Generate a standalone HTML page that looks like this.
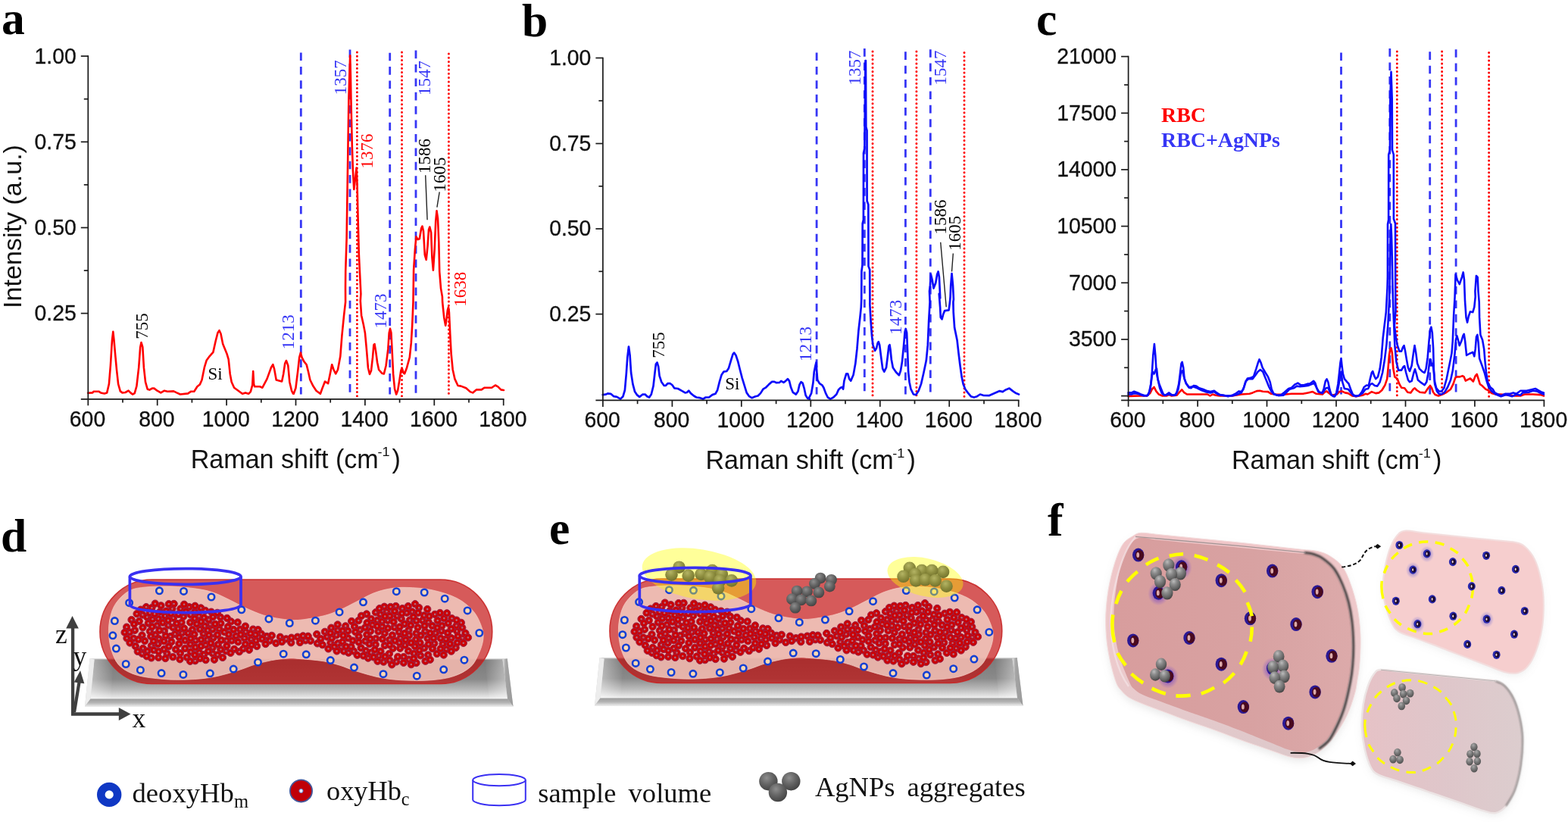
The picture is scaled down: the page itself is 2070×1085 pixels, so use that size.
<!DOCTYPE html>
<html lang="en"><head><meta charset="utf-8"><title>Raman spectra of RBC with AgNPs</title>
<style>html,body{margin:0;padding:0;background:#fff}body{width:2070px;height:1085px;overflow:hidden}svg{display:block}</style></head><body>
<svg width="2070" height="1085" viewBox="0 0 2070 1085">
<rect width="2070" height="1085" fill="#fff"/>
<g id="chart-a">
<path d="M397.3 69.5V520.5" stroke="#3636f5" stroke-width="2.8" stroke-dasharray="10.6 7.8" fill="none"/>
<path d="M462.0 65.5V520.5" stroke="#3636f5" stroke-width="2.8" stroke-dasharray="10.6 7.8" fill="none"/>
<path d="M471.4 69.05V524.6" stroke="#ff0000" stroke-width="3.0" stroke-linecap="round" stroke-dasharray="0.01 5.265" fill="none"/>
<path d="M514.7 69.7V520.5" stroke="#3636f5" stroke-width="2.8" stroke-dasharray="10.6 7.8" fill="none"/>
<path d="M530.5 69.05V524.6" stroke="#ff0000" stroke-width="3.0" stroke-linecap="round" stroke-dasharray="0.01 5.265" fill="none"/>
<path d="M549.0 66.6V520.5" stroke="#3636f5" stroke-width="2.8" stroke-dasharray="10.6 7.8" fill="none"/>
<path d="M592.4 70.95V524.6" stroke="#ff0000" stroke-width="3.0" stroke-linecap="round" stroke-dasharray="0.01 5.265" fill="none"/>
<path d="M116.1 518.7 L122.2 518.4 L123.5 516.7 L130.3 516.7 L133.0 518.4 L137.8 519.4 L141.2 518.4 L143.9 506.9 L145.9 482.5 L147.9 450.0 L149.3 437.8 L150.6 450.0 L152.0 466.3 L154.0 488.0 L156.1 506.9 L158.8 516.4 L161.5 518.4 L165.5 518.0 L169.6 515.7 L172.3 518.4 L175.0 520.5 L177.7 519.1 L180.4 509.6 L183.2 485.2 L185.2 458.2 L186.5 452.1 L188.3 458.2 L189.9 485.2 L192.0 504.2 L194.7 513.7 L197.4 514.6 L200.8 512.6 L203.5 512.6 L207.5 515.7 L212.3 518.4 L217.0 515.7 L221.1 516.7 L229.2 516.4 L233.3 518.4 L238.0 520.5 L248.2 519.4 L252.2 516.7 L256.3 516.7 L260.4 510.3 L263.8 507.6 L266.5 501.5 L269.8 485.2 L272.6 475.8 L276.6 470.3 L281.4 464.9 L284.7 450.0 L287.5 439.2 L289.5 436.2 L291.5 440.5 L294.2 454.1 L299.7 467.6 L301.7 474.4 L303.7 493.4 L305.7 504.2 L309.1 511.7 L314.6 515.7 L320.0 519.8 L324.0 518.4 L328.1 519.8 L330.8 517.1 L333.2 508.3 L334.2 490.0 L335.1 506.9 L336.2 510.3 L343.0 510.3 L346.4 511.7 L352.5 500.1 L357.9 485.2 L360.3 481.2 L362.0 486.6 L364.7 501.5 L370.1 502.9 L372.1 503.5 L374.2 493.4 L376.2 479.8 L377.9 476.0 L380.3 482.5 L382.3 504.2 L385.0 515.7 L387.0 519.8 L387.7 519.8 L390.4 512.3 L393.1 490.7 L395.2 471.7 L396.9 465.6 L398.5 471.7 L401.3 477.1 L404.6 481.2 L406.7 489.3 L409.4 501.5 L413.4 509.6 L417.5 515.7 L422.9 519.8 L425.6 512.3 L429.0 503.5 L433.1 506.2 L435.8 493.4 L438.2 481.2 L440.5 488.0 L443.2 493.4 L446.0 488.0 L449.3 470.3 L451.4 443.2 L454.1 416.2 L456.1 398.5 L456.0 380.0 L456.2 358.0 L457.6 315.0 L458.9 229.0 L460.4 130.0 L461.3 100.0 L462.2 73.3 L462.9 100.0 L463.4 130.0 L464.8 192.5 L465.9 225.0 L467.3 250.0 L469.0 236.0 L470.6 221.5 L471.6 245.0 L472.2 272.0 L473.8 335.0 L475.0 360.0 L476.4 388.0 L475.8 397.2 L477.1 416.2 L479.8 428.3 L481.9 439.2 L483.9 460.9 L485.9 485.2 L488.0 494.0 L490.0 489.3 L492.0 471.7 L493.4 455.4 L494.5 454.1 L496.1 463.6 L498.1 478.5 L500.1 488.0 L504.2 492.7 L506.9 493.4 L509.6 482.5 L512.3 460.9 L513.7 439.2 L515.0 433.8 L516.4 439.2 L517.8 466.3 L519.1 493.4 L521.1 513.7 L523.2 520.5 L525.2 515.0 L527.2 502.9 L529.3 489.3 L530.6 485.9 L532.7 492.0 L534.0 493.4 L536.7 486.6 L540.8 471.7 L542.8 452.7 L544.2 429.7 L545.5 398.5 L546.1 356.6 L547.9 329.0 L549.4 312.4 L551.6 316.1 L553.8 315.2 L556.2 301.3 L557.5 298.6 L559.0 305.0 L560.8 336.4 L562.7 342.8 L564.5 325.3 L566.0 303.2 L567.3 299.5 L569.1 306.9 L570.4 340.0 L571.9 356.6 L573.7 329.0 L575.2 292.1 L576.5 278.3 L578.0 288.4 L579.3 319.8 L580.2 358.5 L582.0 380.6 L583.9 391.6 L584.1 398.5 L586.2 418.9 L588.2 429.7 L589.6 420.2 L590.9 409.4 L592.0 405.3 L592.9 412.1 L594.3 441.9 L595.6 466.3 L597.7 488.0 L600.4 500.1 L604.5 509.0 L608.5 509.6 L615.3 512.3 L620.7 517.1 L624.1 518.4 L628.8 514.4 L635.6 514.4 L639.7 511.7 L649.2 511.7 L653.9 508.5 L657.3 510.3 L661.3 514.4 L665.0 515.0" fill="none" stroke="#ff0000" stroke-width="2.6" stroke-linejoin="round" stroke-linecap="round"/>
<g stroke="#1a1a1a" stroke-width="1.7" fill="none">
<path d="M106.8 526.8H665.5"/>
<path d="M116.3 526.8V73.3"/>
<path d="M116.3 526.8v8.5"/>
<path d="M162.0 526.8v4.8"/>
<path d="M207.7 526.8v8.5"/>
<path d="M253.4 526.8v4.8"/>
<path d="M299.1 526.8v8.5"/>
<path d="M344.8 526.8v4.8"/>
<path d="M390.5 526.8v8.5"/>
<path d="M436.2 526.8v4.8"/>
<path d="M481.9 526.8v8.5"/>
<path d="M527.6 526.8v4.8"/>
<path d="M573.3 526.8v8.5"/>
<path d="M619.0 526.8v4.8"/>
<path d="M664.7 526.8v8.5"/>
<path d="M116.3 74.1h-9.5"/>
<path d="M116.3 130.7h-5.5"/>
<path d="M116.3 187.3h-9.5"/>
<path d="M116.3 243.9h-5.5"/>
<path d="M116.3 300.5h-9.5"/>
<path d="M116.3 357.1h-5.5"/>
<path d="M116.3 413.6h-9.5"/>
</g>
<g font-family="'Liberation Sans',Arial,sans-serif" font-size="28.4" fill="#111" stroke="#111" stroke-width="0.3">
<text transform="translate(115.5 563) scale(1 1.03)" text-anchor="middle">600</text>
<text transform="translate(206.9 563) scale(1 1.03)" text-anchor="middle">800</text>
<text transform="translate(298.3 563) scale(1 1.03)" text-anchor="middle">1000</text>
<text transform="translate(389.7 563) scale(1 1.03)" text-anchor="middle">1200</text>
<text transform="translate(481.1 563) scale(1 1.03)" text-anchor="middle">1400</text>
<text transform="translate(572.5 563) scale(1 1.03)" text-anchor="middle">1600</text>
<text transform="translate(663.9 563) scale(1 1.03)" text-anchor="middle">1800</text>
<text transform="translate(100.8 83.5) scale(1 1.03)" text-anchor="end">1.00</text>
<text transform="translate(100.8 196.7) scale(1 1.03)" text-anchor="end">0.75</text>
<text transform="translate(100.8 309.9) scale(1 1.03)" text-anchor="end">0.50</text>
<text transform="translate(100.8 423.0) scale(1 1.03)" text-anchor="end">0.25</text>
</g>
<g font-family="'Liberation Sans',Arial,sans-serif" fill="#111"><text transform="translate(251.7 617.7) scale(1 1.04)" font-size="34.1">Raman shift (cm</text><text transform="translate(498.5 601.8) scale(1.1 1)" font-size="16.5">-1</text><text transform="translate(517.6 617.7) scale(1 1.04)" font-size="34.1">)</text></g>
<text transform="translate(28 299) rotate(-90)" text-anchor="middle" font-family="'Liberation Sans',Arial,sans-serif" font-size="34.1" fill="#111">Intensity (a.u.)</text>
<text transform="translate(457.0 125.3) rotate(-90)" font-family="'Liberation Serif','Times New Roman',serif" font-size="23" fill="#3636f5" text-anchor="start">1357</text>
<text transform="translate(568.3 126.0) rotate(-90)" font-family="'Liberation Serif','Times New Roman',serif" font-size="23" fill="#3636f5" text-anchor="start">1547</text>
<text transform="translate(492.3 222.4) rotate(-90)" font-family="'Liberation Serif','Times New Roman',serif" font-size="23" fill="#ff0000" text-anchor="start">1376</text>
<text transform="translate(614.6 404.8) rotate(-90)" font-family="'Liberation Serif','Times New Roman',serif" font-size="23" fill="#ff0000" text-anchor="start">1638</text>
<text transform="translate(567.6 229.0) rotate(-90)" font-family="'Liberation Serif','Times New Roman',serif" font-size="23" fill="#000" text-anchor="start">1586</text>
<text transform="translate(587.9 253.4) rotate(-90)" font-family="'Liberation Serif','Times New Roman',serif" font-size="23" fill="#000" text-anchor="start">1605</text>
<text transform="translate(194.6 447.8) rotate(-90)" font-family="'Liberation Serif','Times New Roman',serif" font-size="23" fill="#000" text-anchor="start">755</text>
<text transform="translate(388.3 461.3) rotate(-90)" font-family="'Liberation Serif','Times New Roman',serif" font-size="23" fill="#3636f5" text-anchor="start">1213</text>
<text transform="translate(510.3 433.5) rotate(-90)" font-family="'Liberation Serif','Times New Roman',serif" font-size="23" fill="#3636f5" text-anchor="start">1473</text>
<path d="M561.7 231.3L564.1 290.3M580.2 253.4L576.9 273.7" stroke="#222" stroke-width="1.4" fill="none"/>
<text x="274.5" y="500.8" font-family="'Liberation Serif',serif" font-size="23" fill="#000">Si</text>
<text x="2" y="44.5" font-family="'Liberation Serif','Times New Roman',serif" font-weight="bold" font-size="61.5" fill="#000">a</text>
</g>
<g id="chart-b">
<path d="M1078.1 69.5V520.5" stroke="#3636f5" stroke-width="2.8" stroke-dasharray="10.6 7.8" fill="none"/>
<path d="M1141.3 64.1V516.4" stroke="#3636f5" stroke-width="2.8" stroke-dasharray="10.6 7.8" fill="none"/>
<path d="M1152.0 68.05V522.1" stroke="#ff0000" stroke-width="3.0" stroke-linecap="round" stroke-dasharray="0.01 5.265" fill="none"/>
<path d="M1195.4 68.3V520.5" stroke="#3636f5" stroke-width="2.8" stroke-dasharray="10.6 7.8" fill="none"/>
<path d="M1209.9 68.05V522.1" stroke="#ff0000" stroke-width="3.0" stroke-linecap="round" stroke-dasharray="0.01 5.265" fill="none"/>
<path d="M1228.3 65.2V517.8" stroke="#3636f5" stroke-width="2.8" stroke-dasharray="10.6 7.8" fill="none"/>
<path d="M1273.0 69.55V523.4" stroke="#ff0000" stroke-width="3.0" stroke-linecap="round" stroke-dasharray="0.01 5.265" fill="none"/>
<path d="M795.7 521.1 L799.5 520.7 L802.2 519.4 L806.3 519.8 L810.3 523.2 L814.4 523.9 L819.1 526.6 L822.5 523.2 L824.9 515.0 L826.8 493.4 L828.3 471.7 L830.0 457.5 L831.6 469.0 L833.1 492.0 L835.4 506.9 L838.1 517.1 L840.8 521.1 L844.2 523.9 L848.2 520.7 L851.6 520.5 L854.3 523.2 L857.1 524.5 L859.8 520.5 L862.5 509.6 L864.5 492.0 L865.9 480.5 L867.5 478.5 L869.2 483.9 L870.6 496.1 L873.3 504.2 L876.7 509.0 L878.7 509.0 L881.4 506.2 L884.8 506.2 L887.5 508.3 L890.2 512.3 L895.0 513.0 L899.7 515.7 L904.5 518.4 L906.8 518.0 L909.2 515.7 L911.9 519.1 L916.0 522.5 L919.4 524.5 L924.1 525.2 L928.2 526.6 L931.6 524.5 L936.3 524.3 L940.4 521.1 L944.4 519.8 L947.1 515.0 L949.8 504.2 L952.6 494.7 L955.3 490.7 L959.3 490.0 L962.0 485.9 L965.4 474.4 L967.5 467.6 L969.1 465.6 L971.5 469.0 L974.2 477.1 L976.9 488.0 L979.7 498.8 L983.0 509.6 L985.7 518.4 L989.1 523.2 L992.5 525.2 L997.3 523.2 L1000.6 522.5 L1004.0 519.1 L1007.4 513.7 L1010.8 511.7 L1014.9 507.6 L1018.9 503.9 L1022.3 503.9 L1025.0 505.2 L1029.1 504.9 L1031.1 502.9 L1034.5 504.9 L1037.2 502.9 L1039.9 500.1 L1042.0 502.9 L1044.0 511.0 L1046.7 517.8 L1050.8 520.5 L1053.5 516.4 L1055.5 507.6 L1057.5 504.2 L1059.6 505.6 L1061.6 512.3 L1063.6 521.8 L1066.3 525.9 L1069.1 526.6 L1067.7 525.9 L1071.1 519.1 L1073.4 505.6 L1074.8 490.7 L1076.5 482.5 L1077.5 478.5 L1078.3 490.7 L1079.2 501.5 L1081.9 506.2 L1085.3 508.3 L1087.4 511.7 L1090.1 519.1 L1092.8 524.5 L1096.2 526.6 L1100.2 524.5 L1104.3 520.5 L1107.0 514.4 L1109.7 511.7 L1111.7 511.0 L1113.1 513.7 L1114.4 502.9 L1117.2 493.4 L1119.2 493.4 L1121.2 500.1 L1123.2 502.6 L1126.6 494.7 L1129.3 479.8 L1131.4 460.9 L1133.4 436.5 L1135.4 418.9 L1136.8 405.3 L1137.2 395.0 L1137.4 358.0 L1138.5 350.0 L1138.7 295.0 L1139.9 290.0 L1140.0 202.0 L1141.4 196.0 L1141.6 168.0 L1142.5 80.0 L1142.9 80.0 L1143.3 167.6 L1144.5 172.0 L1144.6 265.3 L1146.3 270.0 L1146.5 351.4 L1148.2 356.0 L1148.4 398.0 L1148.3 401.3 L1149.7 425.6 L1151.0 443.2 L1152.4 455.4 L1155.1 462.9 L1157.1 459.5 L1158.7 452.7 L1159.8 451.1 L1161.2 455.4 L1163.2 471.7 L1165.2 486.6 L1167.3 490.7 L1170.0 485.2 L1172.0 469.0 L1173.4 456.8 L1174.5 455.2 L1175.4 460.9 L1176.8 474.4 L1178.8 485.2 L1182.9 491.3 L1186.9 495.4 L1189.0 489.3 L1191.0 477.1 L1193.0 456.8 L1194.6 437.8 L1195.7 434.0 L1197.1 439.2 L1198.2 466.3 L1199.1 490.7 L1200.5 504.2 L1202.5 513.7 L1205.9 520.5 L1209.3 521.1 L1212.7 515.7 L1216.0 506.9 L1219.4 492.0 L1222.8 475.8 L1224.8 455.4 L1226.2 422.9 L1227.6 398.5 L1227.0 384.3 L1227.9 376.9 L1228.9 362.2 L1230.7 369.5 L1232.5 380.6 L1235.3 373.2 L1237.1 362.2 L1238.6 358.5 L1239.9 365.8 L1241.2 393.5 L1239.7 387.7 L1241.1 405.3 L1241.8 418.9 L1243.5 421.3 L1245.2 414.8 L1247.2 410.1 L1252.6 409.4 L1254.0 398.5 L1254.6 391.6 L1255.2 376.9 L1256.5 361.2 L1258.0 376.9 L1258.9 395.3 L1258.4 398.5 L1258.7 412.1 L1260.1 432.4 L1263.5 448.7 L1265.5 466.3 L1267.5 482.5 L1269.6 497.4 L1271.6 506.9 L1274.3 513.7 L1277.7 518.4 L1281.7 523.2 L1285.8 524.5 L1289.9 523.2 L1293.9 520.5 L1298.0 521.8 L1306.1 522.1 L1312.9 519.1 L1319.7 516.1 L1323.7 517.1 L1327.8 514.4 L1332.5 512.6 L1337.3 516.4 L1341.3 519.1 L1345.0 520.5" fill="none" stroke="#0c0cfa" stroke-width="2.7" stroke-linejoin="round" stroke-linecap="round"/>
<g stroke="#1a1a1a" stroke-width="1.7" fill="none">
<path d="M786.4 528.4H1345.5"/>
<path d="M795.9 528.4V75.7"/>
<path d="M795.9 528.4v8.5"/>
<path d="M841.6 528.4v4.8"/>
<path d="M887.4 528.4v8.5"/>
<path d="M933.1 528.4v4.8"/>
<path d="M978.8 528.4v8.5"/>
<path d="M1024.6 528.4v4.8"/>
<path d="M1070.3 528.4v8.5"/>
<path d="M1116.0 528.4v4.8"/>
<path d="M1161.8 528.4v8.5"/>
<path d="M1207.5 528.4v4.8"/>
<path d="M1253.2 528.4v8.5"/>
<path d="M1299.0 528.4v4.8"/>
<path d="M1344.7 528.4v8.5"/>
<path d="M795.9 76.5h-9.5"/>
<path d="M795.9 133.0h-5.5"/>
<path d="M795.9 189.5h-9.5"/>
<path d="M795.9 245.8h-5.5"/>
<path d="M795.9 302.0h-9.5"/>
<path d="M795.9 358.3h-5.5"/>
<path d="M795.9 414.6h-9.5"/>
</g>
<g font-family="'Liberation Sans',Arial,sans-serif" font-size="28.4" fill="#111" stroke="#111" stroke-width="0.3">
<text transform="translate(795.1 564.3) scale(1 1.03)" text-anchor="middle">600</text>
<text transform="translate(886.6 564.3) scale(1 1.03)" text-anchor="middle">800</text>
<text transform="translate(978.0 564.3) scale(1 1.03)" text-anchor="middle">1000</text>
<text transform="translate(1069.5 564.3) scale(1 1.03)" text-anchor="middle">1200</text>
<text transform="translate(1161.0 564.3) scale(1 1.03)" text-anchor="middle">1400</text>
<text transform="translate(1252.4 564.3) scale(1 1.03)" text-anchor="middle">1600</text>
<text transform="translate(1343.9 564.3) scale(1 1.03)" text-anchor="middle">1800</text>
<text transform="translate(780.4 85.9) scale(1 1.03)" text-anchor="end">1.00</text>
<text transform="translate(780.4 198.9) scale(1 1.03)" text-anchor="end">0.75</text>
<text transform="translate(780.4 311.4) scale(1 1.03)" text-anchor="end">0.50</text>
<text transform="translate(780.4 424.0) scale(1 1.03)" text-anchor="end">0.25</text>
</g>
<g font-family="'Liberation Sans',Arial,sans-serif" fill="#111"><text transform="translate(931.5 619.4) scale(1 1.04)" font-size="34.1">Raman shift (cm</text><text transform="translate(1178.3 603.5) scale(1.1 1)" font-size="16.5">-1</text><text transform="translate(1197.4 619.4) scale(1 1.04)" font-size="34.1">)</text></g>
<text transform="translate(1136.0 112.4) rotate(-90)" font-family="'Liberation Serif','Times New Roman',serif" font-size="23" fill="#3636f5" text-anchor="start">1357</text>
<text transform="translate(1248.9 112.4) rotate(-90)" font-family="'Liberation Serif','Times New Roman',serif" font-size="23" fill="#3636f5" text-anchor="start">1547</text>
<text transform="translate(1249.4 309.6) rotate(-90)" font-family="'Liberation Serif','Times New Roman',serif" font-size="23" fill="#000" text-anchor="start">1586</text>
<text transform="translate(1267.9 330.8) rotate(-90)" font-family="'Liberation Serif','Times New Roman',serif" font-size="23" fill="#000" text-anchor="start">1605</text>
<text transform="translate(876.7 472.8) rotate(-90)" font-family="'Liberation Serif','Times New Roman',serif" font-size="23" fill="#000" text-anchor="start">755</text>
<text transform="translate(1070.5 476.9) rotate(-90)" font-family="'Liberation Serif','Times New Roman',serif" font-size="23" fill="#3636f5" text-anchor="start">1213</text>
<text transform="translate(1189.6 441.7) rotate(-90)" font-family="'Liberation Serif','Times New Roman',serif" font-size="23" fill="#3636f5" text-anchor="start">1473</text>
<path d="M1241.7 319.8L1249.2 405.3M1258.3 334.5L1256.5 358.5" stroke="#222" stroke-width="1.4" fill="none"/>
<text x="957.2" y="514.4" font-family="'Liberation Serif',serif" font-size="23" fill="#000">Si</text>
<text x="689" y="47.5" font-family="'Liberation Serif','Times New Roman',serif" font-weight="bold" font-size="61.5" fill="#000">b</text>
</g>
<g id="chart-c">
<path d="M1770.5 69.5V520.5" stroke="#3636f5" stroke-width="2.8" stroke-dasharray="10.6 7.8" fill="none"/>
<path d="M1834.8 64.1V517.0" stroke="#3636f5" stroke-width="2.8" stroke-dasharray="10.6 7.8" fill="none"/>
<path d="M1844.3 68.05V522.6" stroke="#ff0000" stroke-width="3.0" stroke-linecap="round" stroke-dasharray="0.01 5.265" fill="none"/>
<path d="M1887.7 68.3V520.5" stroke="#3636f5" stroke-width="2.8" stroke-dasharray="10.6 7.8" fill="none"/>
<path d="M1903.6 68.05V519.6" stroke="#ff0000" stroke-width="3.0" stroke-linecap="round" stroke-dasharray="0.01 5.265" fill="none"/>
<path d="M1922.1 65.2V518.5" stroke="#3636f5" stroke-width="2.8" stroke-dasharray="10.6 7.8" fill="none"/>
<path d="M1965.6 69.55V523.4" stroke="#ff0000" stroke-width="3.0" stroke-linecap="round" stroke-dasharray="0.01 5.265" fill="none"/>
<path d="M1489.5 522.9 L1506.0 522.5 L1514.2 522.5 L1518.2 519.1 L1520.9 513.7 L1523.6 511.0 L1526.3 516.4 L1529.7 520.5 L1534.5 522.5 L1539.9 522.5 L1543.3 521.1 L1546.7 522.5 L1553.4 521.8 L1556.8 517.8 L1560.2 514.4 L1562.9 517.8 L1567.0 520.5 L1577.8 520.5 L1594.1 520.5 L1597.5 522.5 L1600.9 520.5 L1604.9 521.8 L1610.3 522.5 L1626.6 522.5 L1638.8 520.5 L1649.6 519.8 L1653.7 518.4 L1659.1 516.1 L1663.2 515.7 L1667.2 516.7 L1674.0 517.1 L1678.1 519.8 L1683.5 520.5 L1694.3 520.7 L1705.2 519.8 L1720.1 519.8 L1726.8 518.4 L1732.9 517.1 L1737.7 519.8 L1745.8 520.5 L1748.5 517.8 L1751.2 516.4 L1753.9 518.4 L1758.0 521.8 L1764.8 520.5 L1768.2 517.1 L1771.5 516.4 L1775.6 518.4 L1779.7 519.1 L1785.1 522.5 L1790.5 523.2 L1798.6 521.8 L1802.7 519.8 L1805.4 520.5 L1810.8 517.1 L1816.2 519.1 L1820.3 518.4 L1824.4 515.0 L1828.4 508.3 L1831.2 500.1 L1832.5 486.6 L1833.9 469.0 L1835.2 460.9 L1836.6 459.5 L1837.9 466.3 L1839.3 486.6 L1841.3 497.4 L1844.7 500.1 L1847.4 506.9 L1850.1 511.7 L1854.2 512.3 L1858.2 517.8 L1862.3 518.4 L1865.7 513.7 L1867.7 512.3 L1870.4 515.0 L1874.5 517.8 L1881.3 518.4 L1885.3 512.3 L1888.0 509.0 L1890.1 512.3 L1892.1 517.8 L1894.8 521.1 L1898.9 522.5 L1904.3 520.5 L1909.7 517.8 L1915.1 513.7 L1918.5 506.9 L1921.2 498.8 L1923.3 497.2 L1927.3 497.4 L1930.7 496.1 L1932.7 497.4 L1934.8 502.6 L1938.2 500.8 L1940.9 499.5 L1944.9 503.5 L1947.7 496.1 L1949.7 494.0 L1951.7 500.1 L1953.7 506.9 L1957.1 509.6 L1961.2 513.7 L1965.3 515.7 L1969.3 519.1 L1974.7 520.5 L1980.2 520.5 L1988.3 521.1 L1999.1 522.5 L2007.3 522.5 L2012.7 520.5 L2023.5 520.5 L2034.3 521.1 L2038.0 522.5" fill="none" stroke="#ff0000" stroke-width="2.6" stroke-linejoin="round" stroke-linecap="round"/>
<path d="M1489.5 518.4 L1493.8 518.4 L1497.2 516.7 L1502.0 518.4 L1506.0 520.5 L1510.1 521.8 L1514.2 522.5 L1516.9 518.4 L1519.3 506.9 L1520.9 490.7 L1522.3 469.0 L1523.9 454.1 L1525.3 469.0 L1526.6 490.7 L1528.4 500.1 L1530.4 506.9 L1533.1 513.7 L1535.8 520.5 L1538.5 521.8 L1543.3 518.4 L1546.7 521.1 L1550.7 521.8 L1553.4 518.4 L1556.2 506.9 L1558.2 490.7 L1559.5 479.8 L1560.6 477.8 L1562.2 485.2 L1563.6 500.1 L1566.3 506.9 L1569.7 511.7 L1572.4 512.3 L1575.8 509.0 L1579.2 509.6 L1583.2 512.3 L1588.0 513.7 L1592.7 515.7 L1598.1 517.1 L1602.9 515.7 L1606.3 518.4 L1610.3 521.1 L1615.8 521.8 L1621.2 523.2 L1626.6 521.8 L1632.0 519.1 L1635.4 516.4 L1638.8 517.1 L1641.5 513.7 L1644.2 504.2 L1646.9 499.5 L1651.0 498.8 L1655.0 496.8 L1658.4 486.6 L1660.5 479.8 L1662.5 474.4 L1664.5 478.5 L1666.6 485.2 L1670.6 492.0 L1674.0 497.4 L1676.7 504.2 L1678.7 513.7 L1681.5 519.8 L1686.2 521.8 L1691.6 521.1 L1695.7 517.8 L1701.1 513.0 L1705.2 511.7 L1709.2 507.6 L1713.3 505.6 L1717.4 508.3 L1721.4 508.3 L1725.5 506.9 L1729.5 506.2 L1732.3 504.2 L1734.3 502.9 L1736.3 505.6 L1738.4 512.3 L1741.7 517.8 L1745.8 518.4 L1747.8 512.3 L1749.9 502.9 L1751.5 500.4 L1753.3 504.2 L1755.3 513.7 L1757.3 520.5 L1760.0 523.2 L1761.4 523.2 L1764.1 519.1 L1766.4 506.9 L1768.2 490.7 L1769.5 478.5 L1770.5 473.1 L1771.5 482.5 L1772.9 493.4 L1774.9 500.1 L1778.3 504.2 L1780.4 506.2 L1783.1 513.7 L1785.8 520.5 L1789.8 523.2 L1794.6 521.8 L1798.0 517.1 L1800.7 511.0 L1804.1 508.5 L1806.8 509.0 L1808.8 500.1 L1810.8 492.0 L1812.2 490.0 L1814.2 496.1 L1816.2 500.1 L1819.0 497.4 L1821.7 486.6 L1823.7 471.7 L1825.7 446.0 L1827.8 428.3 L1829.8 412.1 L1831.5 380.0 L1831.9 365.0 L1832.0 296.0 L1833.1 290.0 L1833.2 204.0 L1834.9 198.0 L1835.3 130.0 L1836.5 94.8 L1837.7 130.0 L1838.0 198.0 L1839.8 204.0 L1839.9 289.0 L1842.0 295.0 L1842.2 385.0 L1842.5 410.0 L1840.9 429.7 L1842.7 444.6 L1844.7 455.4 L1847.4 463.6 L1850.1 463.6 L1852.1 458.2 L1853.5 456.1 L1854.9 462.2 L1856.9 474.4 L1858.9 485.2 L1861.0 490.0 L1863.7 482.5 L1865.7 467.6 L1867.5 456.1 L1869.1 464.9 L1871.1 479.8 L1873.8 486.6 L1877.9 490.7 L1880.6 492.0 L1882.6 486.6 L1884.7 471.7 L1886.4 451.4 L1888.0 435.1 L1889.4 431.7 L1890.8 439.2 L1892.1 459.5 L1892.8 486.6 L1894.1 504.2 L1896.2 512.3 L1899.6 516.4 L1902.9 516.7 L1906.3 512.3 L1909.7 500.1 L1913.8 479.8 L1916.5 466.3 L1917.8 450.0 L1919.2 414.8 L1920.6 391.8 L1920.7 387.9 L1921.6 362.2 L1923.8 369.5 L1926.8 375.1 L1929.9 365.8 L1931.7 359.4 L1933.0 369.5 L1934.0 397.2 L1934.1 398.5 L1935.5 418.9 L1937.1 425.6 L1938.8 417.5 L1940.9 411.4 L1944.3 412.1 L1946.3 405.3 L1947.7 391.8 L1947.4 384.3 L1948.9 364.0 L1950.7 365.8 L1951.5 384.3 L1952.7 398.5 L1953.1 418.9 L1954.4 441.9 L1957.1 448.7 L1959.2 460.9 L1960.5 477.1 L1961.9 490.7 L1963.9 504.2 L1967.3 511.0 L1970.7 513.7 L1973.4 518.4 L1977.5 520.5 L1981.5 522.5 L1986.9 519.8 L1993.7 519.8 L1997.8 518.4 L2001.8 519.8 L2007.3 515.7 L2015.4 515.7 L2020.8 514.4 L2026.9 513.0 L2031.6 515.7 L2035.7 517.8 L2038.0 518.4" fill="none" stroke="#0c0cfa" stroke-width="2.6" stroke-linejoin="round" stroke-linecap="round"/>
<path d="M1489.5 520.5 L1493.8 520.5 L1497.2 519.1 L1502.0 519.8 L1510.1 522.5 L1515.5 521.8 L1518.5 513.7 L1520.3 500.1 L1521.6 490.7 L1523.6 493.4 L1525.7 488.0 L1527.0 486.6 L1528.4 500.1 L1531.1 512.3 L1533.8 519.1 L1537.2 521.8 L1542.6 520.5 L1548.0 521.8 L1552.1 521.1 L1555.5 513.7 L1557.5 501.5 L1558.9 492.0 L1560.9 489.3 L1562.9 497.4 L1565.6 505.6 L1569.7 511.0 L1575.1 510.3 L1580.5 512.3 L1586.0 515.0 L1591.4 517.1 L1598.1 518.4 L1602.9 517.1 L1607.6 520.5 L1615.8 522.1 L1626.6 522.5 L1633.4 520.5 L1638.8 518.4 L1642.2 511.0 L1644.9 502.9 L1648.3 500.1 L1653.7 500.1 L1657.7 494.7 L1660.5 490.7 L1663.8 488.0 L1667.2 490.7 L1669.9 497.4 L1672.7 504.2 L1675.4 511.0 L1678.7 517.1 L1682.1 520.5 L1687.6 522.1 L1694.3 521.8 L1698.4 517.8 L1702.5 513.7 L1707.9 512.3 L1711.9 509.6 L1716.0 510.3 L1721.4 509.6 L1726.8 509.0 L1732.3 506.9 L1735.0 505.6 L1737.7 511.0 L1740.4 517.1 L1745.8 519.1 L1748.5 515.0 L1750.5 512.3 L1753.3 511.7 L1755.3 516.4 L1758.0 521.8 L1762.1 523.2 L1765.5 517.8 L1767.5 506.9 L1769.5 492.0 L1770.5 490.7 L1772.2 504.2 L1774.9 513.0 L1779.7 513.7 L1783.1 517.8 L1787.1 522.5 L1793.2 522.5 L1798.6 519.1 L1802.7 513.7 L1806.1 513.0 L1808.8 507.6 L1811.5 506.2 L1814.9 509.0 L1818.3 509.6 L1821.7 504.2 L1825.1 492.0 L1827.8 475.8 L1830.5 454.1 L1832.5 425.6 L1833.9 398.5 L1834.5 380.0 L1835.0 340.0 L1835.6 310.0 L1836.3 296.0 L1837.0 310.0 L1837.8 340.0 L1838.5 380.0 L1839.5 412.0 L1841.3 455.4 L1843.3 477.1 L1846.1 488.6 L1850.1 488.6 L1852.8 483.9 L1854.2 483.2 L1856.2 492.0 L1858.9 501.5 L1861.0 504.2 L1863.7 502.9 L1866.4 492.0 L1868.0 487.3 L1869.8 493.4 L1871.8 501.5 L1875.9 504.9 L1880.6 508.3 L1883.3 504.2 L1885.3 493.4 L1887.4 475.8 L1888.7 474.4 L1890.1 482.5 L1891.4 479.8 L1892.8 490.7 L1894.1 506.9 L1896.9 516.4 L1899.6 519.8 L1902.9 520.5 L1907.0 517.8 L1911.1 511.0 L1915.1 501.5 L1917.8 489.3 L1920.6 466.3 L1921.9 448.7 L1923.3 443.2 L1925.3 450.0 L1926.7 456.1 L1929.4 450.0 L1931.4 443.2 L1932.7 440.8 L1934.1 450.0 L1936.1 469.0 L1939.5 467.0 L1944.3 464.9 L1946.3 470.3 L1947.7 460.9 L1949.0 444.6 L1950.4 441.9 L1951.7 452.7 L1953.1 473.1 L1956.5 482.5 L1959.8 492.0 L1962.6 502.9 L1965.3 511.0 L1969.3 516.4 L1974.7 520.5 L1981.5 523.2 L1988.3 521.1 L1996.4 523.2 L2001.8 520.5 L2007.3 521.8 L2010.0 518.4 L2018.1 517.8 L2023.5 515.7 L2028.9 516.4 L2034.3 519.1 L2038.0 520.5" fill="none" stroke="#0c0cfa" stroke-width="2.6" stroke-linejoin="round" stroke-linecap="round"/>
<g stroke="#1a1a1a" stroke-width="1.7" fill="none">
<path d="M1480.1 528.3H2039.2"/>
<path d="M1489.6 528.3V73.8"/>
<path d="M1489.6 528.3v8.5"/>
<path d="M1535.3 528.3v4.8"/>
<path d="M1581.1 528.3v8.5"/>
<path d="M1626.8 528.3v4.8"/>
<path d="M1672.5 528.3v8.5"/>
<path d="M1718.3 528.3v4.8"/>
<path d="M1764.0 528.3v8.5"/>
<path d="M1809.7 528.3v4.8"/>
<path d="M1855.5 528.3v8.5"/>
<path d="M1901.2 528.3v4.8"/>
<path d="M1946.9 528.3v8.5"/>
<path d="M1992.7 528.3v4.8"/>
<path d="M2038.4 528.3v8.5"/>
<path d="M1489.6 74.6h-9.5"/>
<path d="M1489.6 112.0h-5.5"/>
<path d="M1489.6 149.3h-9.5"/>
<path d="M1489.6 186.6h-5.5"/>
<path d="M1489.6 223.9h-9.5"/>
<path d="M1489.6 261.2h-5.5"/>
<path d="M1489.6 298.6h-9.5"/>
<path d="M1489.6 336.0h-5.5"/>
<path d="M1489.6 373.3h-9.5"/>
<path d="M1489.6 410.6h-5.5"/>
<path d="M1489.6 448.0h-9.5"/>
<path d="M1489.6 485.3h-5.5"/>
<path d="M1489.6 522.6h-9.5"/>
</g>
<g font-family="'Liberation Sans',Arial,sans-serif" font-size="28.4" fill="#111" stroke="#111" stroke-width="0.3">
<text transform="translate(1488.8 564.2) scale(1 1.03)" text-anchor="middle">600</text>
<text transform="translate(1580.3 564.2) scale(1 1.03)" text-anchor="middle">800</text>
<text transform="translate(1671.7 564.2) scale(1 1.03)" text-anchor="middle">1000</text>
<text transform="translate(1763.2 564.2) scale(1 1.03)" text-anchor="middle">1200</text>
<text transform="translate(1854.7 564.2) scale(1 1.03)" text-anchor="middle">1400</text>
<text transform="translate(1946.1 564.2) scale(1 1.03)" text-anchor="middle">1600</text>
<text transform="translate(2037.6 564.2) scale(1 1.03)" text-anchor="middle">1800</text>
<text transform="translate(1474.1 84.0) scale(1 1.03)" text-anchor="end">21000</text>
<text transform="translate(1474.1 158.7) scale(1 1.03)" text-anchor="end">17500</text>
<text transform="translate(1474.1 233.3) scale(1 1.03)" text-anchor="end">14000</text>
<text transform="translate(1474.1 308.0) scale(1 1.03)" text-anchor="end">10500</text>
<text transform="translate(1474.1 382.7) scale(1 1.03)" text-anchor="end">7000</text>
<text transform="translate(1474.1 457.4) scale(1 1.03)" text-anchor="end">3500</text>
</g>
<g font-family="'Liberation Sans',Arial,sans-serif" fill="#111"><text transform="translate(1626.0 619.4) scale(1 1.04)" font-size="34.1">Raman shift (cm</text><text transform="translate(1872.8 603.5) scale(1.1 1)" font-size="16.5">-1</text><text transform="translate(1891.9 619.4) scale(1 1.04)" font-size="34.1">)</text></g>
<text x="1533" y="161.2" font-family="'Liberation Serif',serif" font-weight="bold" font-size="27.9" fill="#ff0000">RBC</text>
<text x="1533" y="194" font-family="'Liberation Serif',serif" font-weight="bold" font-size="27.9" fill="#3636f5">RBC+AgNPs</text>
<text x="1368" y="46" font-family="'Liberation Serif','Times New Roman',serif" font-weight="bold" font-size="61.5" fill="#000">c</text>
</g>
<defs><radialGradient id="gGray" cx="0.4" cy="0.32" r="0.75"><stop offset="0" stop-color="#8e8e8e"/><stop offset="0.45" stop-color="#666"/><stop offset="1" stop-color="#3e3e3e"/></radialGradient>
<radialGradient id="gGrayL" cx="0.38" cy="0.26" r="0.8"><stop offset="0" stop-color="#bcbcbc"/><stop offset="0.3" stop-color="#8e8e8e"/><stop offset="0.7" stop-color="#646464"/><stop offset="1" stop-color="#3a3a3a"/></radialGradient>
<radialGradient id="gOlive" cx="0.42" cy="0.3" r="0.75"><stop offset="0" stop-color="#b4b464"/><stop offset="0.5" stop-color="#8f8f40"/><stop offset="1" stop-color="#6e6e2a"/></radialGradient>
<linearGradient id="gCaps" x1="0" y1="0" x2="0" y2="1"><stop offset="0" stop-color="#d75b5b"/><stop offset="0.42" stop-color="#d25252"/><stop offset="0.62" stop-color="#b83838"/><stop offset="1" stop-color="#a62626"/></linearGradient>
<linearGradient id="gSlide" x1="0" y1="0" x2="0" y2="1"><stop offset="0" stop-color="#7a7a7a"/><stop offset="0.5" stop-color="#8a8a8a"/><stop offset="0.78" stop-color="#bcbcbc"/><stop offset="1" stop-color="#f0f0f0"/></linearGradient>
<linearGradient id="gSlideB" x1="0" y1="0" x2="0" y2="1"><stop offset="0" stop-color="#9c9c9c"/><stop offset="0.5" stop-color="#b4b4b4"/><stop offset="1" stop-color="#ececec"/></linearGradient>
<linearGradient id="gBevR" x1="0" y1="0" x2="1" y2="0"><stop offset="0" stop-color="#e4e4e4"/><stop offset="0.3" stop-color="#a4a4a4"/><stop offset="1" stop-color="#9a9a9a"/></linearGradient>
<linearGradient id="gFaceR" x1="0" y1="0" x2="1" y2="0"><stop offset="0" stop-color="#fff" stop-opacity="0"/><stop offset="1" stop-color="#fff" stop-opacity="0.45"/></linearGradient>
<linearGradient id="gFaceL" x1="0" y1="0" x2="1" y2="0"><stop offset="0" stop-color="#fff" stop-opacity="0.45"/><stop offset="1" stop-color="#fff" stop-opacity="0"/></linearGradient>
<radialGradient id="gGlow" cx="0.5" cy="0.5" r="0.5"><stop offset="0" stop-color="#5a2ac0" stop-opacity="0.75"/><stop offset="0.55" stop-color="#6a3ac8" stop-opacity="0.45"/><stop offset="1" stop-color="#7a4ad0" stop-opacity="0"/></radialGradient>
<filter id="fBlur1" x="-5%" y="-5%" width="110%" height="110%"><feGaussianBlur stdDeviation="0.7"/></filter>
<filter id="fBlur2" x="-10%" y="-10%" width="120%" height="120%"><feGaussianBlur stdDeviation="1.6"/></filter>
</defs>
<g id="panel-d">
<g id="rbc">
<path d="M118.6 869.2H669.7L677.5 932.6H112Z" fill="#cfcfcf"/>
<path d="M124.6 870.6H663.5L670 922.5H119.5Z" fill="url(#gSlide)"/>
<path d="M118.6 869.2L124.6 870.6L119.5 922.5L112 932.6Z" fill="#ededed"/>
<path d="M669.7 869.2L663.5 870.6L670 922.5L677.5 932.6Z" fill="url(#gBevR)"/>
<path d="M640 870.6H663.5L670 922.5H646Z" fill="url(#gFaceR)"/>
<path d="M124.6 870.6H150L146 922.5H119.5Z" fill="url(#gFaceL)"/>
<path d="M119.5 922.5H670L677.5 932.6H112Z" fill="url(#gSlideB)"/>
<rect x="131.9" y="765" width="517.9" height="137.6" rx="68.8" fill="#c20909" fill-opacity="0.67" stroke="#c82424" stroke-width="1.5" stroke-opacity="0.9"/>
<path d="M152.9 796.4 C157.2 790.3 164.0 783.4 170.6 779.8 C177.3 776.2 183.5 775.9 192.7 774.9 C202.0 774.0 214.9 773.7 225.9 774.0 C237.0 774.4 249.9 775.8 259.1 777.1 C268.3 778.5 273.9 779.5 281.2 782.0 C288.6 784.5 296.0 788.4 303.4 791.9 C310.7 795.4 318.1 799.7 325.5 803.0 C332.9 806.3 340.2 809.6 347.6 811.9 C355.0 814.1 362.1 815.6 369.7 816.7 C377.3 817.8 383.7 819.1 393.2 818.5 C402.6 817.9 417.2 815.2 426.4 813.0 C435.6 810.8 441.1 808.4 448.5 805.2 C455.9 802.1 463.2 797.8 470.6 794.2 C478.0 790.5 485.4 786.0 492.7 783.1 C500.1 780.2 507.5 778.2 514.9 776.9 C522.2 775.6 527.8 775.1 537.0 775.4 C546.2 775.6 559.1 776.3 570.2 778.7 C581.2 781.1 594.1 784.9 603.4 789.7 C612.6 794.5 620.0 800.8 625.5 807.4 C631.0 814.1 634.5 823.3 636.5 829.6 C638.6 835.8 638.4 839.5 637.7 845.0 C636.9 850.6 634.9 856.8 632.1 862.7 C629.4 868.6 626.6 875.5 621.1 880.4 C615.5 885.4 607.4 889.7 598.9 892.6 C590.5 895.5 580.5 896.8 570.2 897.7 C559.9 898.6 548.1 898.6 537.0 898.1 C525.9 897.7 514.9 896.9 503.8 894.8 C492.7 892.8 479.8 888.7 470.6 886.0 C461.4 883.2 455.9 880.4 448.5 878.2 C441.1 876.0 435.6 874.2 426.4 872.7 C417.2 871.2 400.8 870.0 393.2 869.4 C385.6 868.8 386.5 868.6 380.8 868.9 C375.0 869.3 366.0 870.2 358.7 871.6 C351.3 873.0 343.9 874.9 336.5 877.1 C329.2 879.3 323.6 882.1 314.4 884.9 C305.2 887.6 292.3 891.7 281.2 893.7 C270.2 895.7 259.1 896.6 248.1 897.0 C237.0 897.5 225.9 897.3 214.9 896.4 C203.8 895.4 190.9 894.2 181.7 891.5 C172.5 888.8 165.1 885.2 159.6 880.4 C154.0 875.6 151.2 869.7 148.5 862.7 C145.8 855.7 144.2 846.2 143.6 838.4 C143.1 830.7 143.6 823.3 145.2 816.3 C146.7 809.3 148.7 802.5 152.9 796.4Z" fill="#f2cfc4" fill-opacity="0.82" stroke="#f6cfc6" stroke-width="1" stroke-opacity="0.7"/>
<g fill="#cb0004" stroke="#98244c" stroke-width="1">
<circle cx="187.5" cy="838.5" r="4.7"/>
<circle cx="178.0" cy="831.9" r="4.7"/>
<circle cx="193.0" cy="801.2" r="4.7"/>
<circle cx="217.9" cy="813.1" r="4.7"/>
<circle cx="557.8" cy="819.0" r="4.7"/>
<circle cx="227.4" cy="803.6" r="4.7"/>
<circle cx="244.3" cy="845.2" r="4.7"/>
<circle cx="456.2" cy="826.4" r="4.7"/>
<circle cx="188.2" cy="811.5" r="4.7"/>
<circle cx="475.4" cy="831.4" r="4.7"/>
<circle cx="306.0" cy="845.5" r="4.7"/>
<circle cx="528.2" cy="855.7" r="4.7"/>
<circle cx="273.6" cy="844.5" r="4.7"/>
<circle cx="498.1" cy="818.9" r="4.7"/>
<circle cx="231.0" cy="836.9" r="4.7"/>
<circle cx="178.8" cy="852.9" r="4.7"/>
<circle cx="514.4" cy="844.4" r="4.7"/>
<circle cx="565.7" cy="821.2" r="4.7"/>
<circle cx="482.3" cy="846.3" r="4.7"/>
<circle cx="428.9" cy="833.9" r="4.7"/>
<circle cx="188.7" cy="855.9" r="4.7"/>
<circle cx="540.9" cy="818.6" r="4.7"/>
<circle cx="339.1" cy="853.0" r="4.7"/>
<circle cx="171.1" cy="834.4" r="4.7"/>
<circle cx="238.4" cy="803.5" r="4.7"/>
<circle cx="197.9" cy="833.3" r="4.7"/>
<circle cx="539.7" cy="870.5" r="4.7"/>
<circle cx="289.5" cy="830.3" r="4.7"/>
<circle cx="242.2" cy="813.8" r="4.7"/>
<circle cx="268.6" cy="836.5" r="4.7"/>
<circle cx="331.5" cy="843.8" r="4.7"/>
<circle cx="601.6" cy="854.9" r="4.7"/>
<circle cx="576.8" cy="862.9" r="4.7"/>
<circle cx="565.2" cy="864.5" r="4.7"/>
<circle cx="208.6" cy="849.9" r="4.7"/>
<circle cx="257.2" cy="807.6" r="4.7"/>
<circle cx="207.6" cy="825.6" r="4.7"/>
<circle cx="277.4" cy="824.2" r="4.7"/>
<circle cx="200.4" cy="802.2" r="4.7"/>
<circle cx="544.1" cy="807.5" r="4.7"/>
<circle cx="560.0" cy="855.4" r="4.7"/>
<circle cx="237.9" cy="862.2" r="4.7"/>
<circle cx="555.1" cy="865.3" r="4.7"/>
<circle cx="539.2" cy="859.3" r="4.7"/>
<circle cx="173.6" cy="818.1" r="4.7"/>
<circle cx="280.6" cy="855.1" r="4.7"/>
<circle cx="603.2" cy="833.1" r="4.7"/>
<circle cx="602.5" cy="825.7" r="4.7"/>
<circle cx="262.7" cy="813.4" r="4.7"/>
<circle cx="251.7" cy="811.4" r="4.7"/>
<circle cx="549.5" cy="836.0" r="4.7"/>
<circle cx="199.9" cy="852.2" r="4.7"/>
<circle cx="507.7" cy="835.9" r="4.7"/>
<circle cx="610.2" cy="828.5" r="4.7"/>
<circle cx="496.0" cy="808.3" r="4.7"/>
<circle cx="219.4" cy="806.6" r="4.7"/>
<circle cx="228.3" cy="867.1" r="4.7"/>
<circle cx="322.8" cy="842.2" r="4.7"/>
<circle cx="280.6" cy="830.6" r="4.7"/>
<circle cx="324.3" cy="834.1" r="4.7"/>
<circle cx="392.7" cy="840.7" r="4.7"/>
<circle cx="240.4" cy="835.5" r="4.7"/>
<circle cx="496.1" cy="842.9" r="4.7"/>
<circle cx="311.5" cy="839.5" r="4.7"/>
<circle cx="209.8" cy="843.3" r="4.7"/>
<circle cx="275.6" cy="817.9" r="4.7"/>
<circle cx="517.9" cy="838.5" r="4.7"/>
<circle cx="582.8" cy="832.8" r="4.7"/>
<circle cx="444.0" cy="838.4" r="4.7"/>
<circle cx="369.9" cy="840.8" r="4.7"/>
<circle cx="596.5" cy="816.3" r="4.7"/>
<circle cx="216.9" cy="832.7" r="4.7"/>
<circle cx="194.2" cy="814.6" r="4.7"/>
<circle cx="523.3" cy="873.4" r="4.7"/>
<circle cx="232.1" cy="857.2" r="4.7"/>
<circle cx="344.9" cy="836.7" r="4.7"/>
<circle cx="251.2" cy="821.6" r="4.7"/>
<circle cx="209.1" cy="816.8" r="4.7"/>
<circle cx="211.3" cy="807.5" r="4.7"/>
<circle cx="305.0" cy="820.4" r="4.7"/>
<circle cx="512.0" cy="819.0" r="4.7"/>
<circle cx="248.3" cy="835.6" r="4.7"/>
<circle cx="539.5" cy="831.8" r="4.7"/>
<circle cx="487.6" cy="850.0" r="4.7"/>
<circle cx="185.8" cy="804.7" r="4.7"/>
<circle cx="278.9" cy="807.7" r="4.7"/>
<circle cx="199.7" cy="868.4" r="4.7"/>
<circle cx="291.1" cy="814.8" r="4.7"/>
<circle cx="296.2" cy="834.2" r="4.7"/>
<circle cx="610.6" cy="842.1" r="4.7"/>
<circle cx="431.6" cy="840.5" r="4.7"/>
<circle cx="507.9" cy="852.0" r="4.7"/>
<circle cx="495.7" cy="850.7" r="4.7"/>
<circle cx="573.3" cy="849.3" r="4.7"/>
<circle cx="500.2" cy="865.8" r="4.7"/>
<circle cx="225.1" cy="840.0" r="4.7"/>
<circle cx="532.9" cy="867.1" r="4.7"/>
<circle cx="476.6" cy="855.2" r="4.7"/>
<circle cx="222.2" cy="825.4" r="4.7"/>
<circle cx="209.2" cy="867.9" r="4.7"/>
<circle cx="419.0" cy="849.3" r="4.7"/>
<circle cx="450.4" cy="854.0" r="4.7"/>
<circle cx="228.9" cy="815.8" r="4.7"/>
<circle cx="504.5" cy="820.3" r="4.7"/>
<circle cx="473.3" cy="819.1" r="4.7"/>
<circle cx="574.1" cy="810.9" r="4.7"/>
<circle cx="258.1" cy="845.2" r="4.7"/>
<circle cx="540.1" cy="838.6" r="4.7"/>
<circle cx="570.9" cy="856.1" r="4.7"/>
<circle cx="589.2" cy="856.9" r="4.7"/>
<circle cx="577.7" cy="819.0" r="4.7"/>
<circle cx="595.8" cy="842.3" r="4.7"/>
<circle cx="499.5" cy="833.5" r="4.7"/>
<circle cx="298.4" cy="859.3" r="4.7"/>
<circle cx="464.1" cy="820.0" r="4.7"/>
<circle cx="249.7" cy="801.2" r="4.7"/>
<circle cx="352.1" cy="840.0" r="4.7"/>
<circle cx="559.8" cy="812.4" r="4.7"/>
<circle cx="575.0" cy="835.5" r="4.7"/>
<circle cx="460.1" cy="861.6" r="4.7"/>
<circle cx="212.5" cy="799.4" r="4.7"/>
<circle cx="403.3" cy="845.3" r="4.7"/>
<circle cx="269.3" cy="815.2" r="4.7"/>
<circle cx="317.0" cy="830.7" r="4.7"/>
<circle cx="263.1" cy="861.2" r="4.7"/>
<circle cx="264.0" cy="830.4" r="4.7"/>
<circle cx="228.4" cy="828.3" r="4.7"/>
<circle cx="188.5" cy="828.3" r="4.7"/>
<circle cx="591.6" cy="822.6" r="4.7"/>
<circle cx="468.0" cy="827.0" r="4.7"/>
<circle cx="586.3" cy="816.1" r="4.7"/>
<circle cx="506.4" cy="873.6" r="4.7"/>
<circle cx="603.7" cy="848.3" r="4.7"/>
<circle cx="584.6" cy="849.9" r="4.7"/>
<circle cx="590.0" cy="809.4" r="4.7"/>
<circle cx="522.5" cy="800.1" r="4.7"/>
<circle cx="251.9" cy="860.5" r="4.7"/>
<circle cx="176.3" cy="842.6" r="4.7"/>
<circle cx="205.3" cy="837.7" r="4.7"/>
<circle cx="489.0" cy="833.1" r="4.7"/>
<circle cx="549.7" cy="819.4" r="4.7"/>
<circle cx="502.1" cy="810.9" r="4.7"/>
<circle cx="534.7" cy="851.6" r="4.7"/>
<circle cx="549.5" cy="875.0" r="4.7"/>
<circle cx="561.3" cy="833.3" r="4.7"/>
<circle cx="280.9" cy="862.7" r="4.7"/>
<circle cx="436.4" cy="848.6" r="4.7"/>
<circle cx="528.6" cy="842.2" r="4.7"/>
<circle cx="167.5" cy="842.5" r="4.7"/>
<circle cx="524.2" cy="813.0" r="4.7"/>
<circle cx="438.0" cy="842.3" r="4.7"/>
<circle cx="171.5" cy="848.5" r="4.7"/>
<circle cx="513.9" cy="862.9" r="4.7"/>
<circle cx="510.5" cy="807.3" r="4.7"/>
<circle cx="257.0" cy="816.6" r="4.7"/>
<circle cx="564.5" cy="842.8" r="4.7"/>
<circle cx="529.7" cy="816.8" r="4.7"/>
<circle cx="445.7" cy="831.8" r="4.7"/>
<circle cx="459.3" cy="832.8" r="4.7"/>
<circle cx="187.7" cy="862.8" r="4.7"/>
<circle cx="536.9" cy="808.7" r="4.7"/>
<circle cx="265.2" cy="802.5" r="4.7"/>
<circle cx="315.9" cy="860.2" r="4.7"/>
<circle cx="489.9" cy="816.9" r="4.7"/>
<circle cx="281.1" cy="814.2" r="4.7"/>
<circle cx="483.1" cy="859.1" r="4.7"/>
<circle cx="191.1" cy="846.0" r="4.7"/>
<circle cx="308.3" cy="831.0" r="4.7"/>
<circle cx="291.4" cy="857.2" r="4.7"/>
<circle cx="554.5" cy="848.5" r="4.7"/>
<circle cx="321.1" cy="856.2" r="4.7"/>
<circle cx="484.3" cy="837.7" r="4.7"/>
<circle cx="467.0" cy="859.5" r="4.7"/>
<circle cx="486.0" cy="868.6" r="4.7"/>
<circle cx="251.4" cy="850.2" r="4.7"/>
<circle cx="226.3" cy="847.1" r="4.7"/>
<circle cx="518.7" cy="855.8" r="4.7"/>
<circle cx="520.7" cy="827.9" r="4.7"/>
<circle cx="257.9" cy="854.4" r="4.7"/>
<circle cx="220.5" cy="862.6" r="4.7"/>
<circle cx="377.7" cy="843.4" r="4.7"/>
<circle cx="324.0" cy="850.3" r="4.7"/>
<circle cx="334.1" cy="830.6" r="4.7"/>
<circle cx="313.7" cy="821.5" r="4.7"/>
<circle cx="299.1" cy="845.6" r="4.7"/>
<circle cx="183.7" cy="820.0" r="4.7"/>
<circle cx="446.0" cy="849.2" r="4.7"/>
<circle cx="469.2" cy="834.1" r="4.7"/>
<circle cx="535.5" cy="844.6" r="4.7"/>
<circle cx="167.2" cy="827.7" r="4.7"/>
<circle cx="614.4" cy="835.7" r="4.7"/>
<circle cx="538.8" cy="800.2" r="4.7"/>
<circle cx="237.5" cy="870.2" r="4.7"/>
<circle cx="314.3" cy="847.3" r="4.7"/>
<circle cx="356.1" cy="845.6" r="4.7"/>
<circle cx="441.4" cy="853.8" r="4.7"/>
<circle cx="526.9" cy="834.2" r="4.7"/>
<circle cx="244.3" cy="855.9" r="4.7"/>
<circle cx="229.6" cy="797.0" r="4.7"/>
<circle cx="437.3" cy="828.7" r="4.7"/>
<circle cx="548.0" cy="797.3" r="4.7"/>
<circle cx="271.0" cy="805.9" r="4.7"/>
<circle cx="561.6" cy="872.7" r="4.7"/>
<circle cx="534.0" cy="823.6" r="4.7"/>
<circle cx="246.7" cy="867.6" r="4.7"/>
<circle cx="216.5" cy="857.1" r="4.7"/>
<circle cx="309.2" cy="856.8" r="4.7"/>
<circle cx="484.0" cy="810.5" r="4.7"/>
<circle cx="542.8" cy="877.1" r="4.7"/>
<circle cx="532.8" cy="874.8" r="4.7"/>
<circle cx="594.1" cy="849.8" r="4.7"/>
<circle cx="216.4" cy="846.3" r="4.7"/>
<circle cx="337.9" cy="845.5" r="4.7"/>
<circle cx="418.2" cy="837.1" r="4.7"/>
<circle cx="502.4" cy="859.7" r="4.7"/>
<circle cx="400.0" cy="839.4" r="4.7"/>
<circle cx="473.6" cy="840.1" r="4.7"/>
<circle cx="346.1" cy="843.4" r="4.7"/>
<circle cx="364.3" cy="849.0" r="4.7"/>
<circle cx="239.6" cy="821.6" r="4.7"/>
<circle cx="452.2" cy="847.1" r="4.7"/>
<circle cx="491.6" cy="824.8" r="4.7"/>
<circle cx="564.2" cy="804.1" r="4.7"/>
<circle cx="235.6" cy="810.8" r="4.7"/>
<circle cx="300.9" cy="827.2" r="4.7"/>
<circle cx="549.0" cy="844.1" r="4.7"/>
<circle cx="546.6" cy="862.6" r="4.7"/>
<circle cx="507.4" cy="800.8" r="4.7"/>
<circle cx="482.0" cy="828.3" r="4.7"/>
<circle cx="358.8" cy="838.9" r="4.7"/>
<circle cx="281.5" cy="842.0" r="4.7"/>
<circle cx="473.6" cy="847.6" r="4.7"/>
<circle cx="572.4" cy="842.2" r="4.7"/>
<circle cx="265.5" cy="844.4" r="4.7"/>
<circle cx="270.3" cy="826.4" r="4.7"/>
<circle cx="479.6" cy="865.5" r="4.7"/>
<circle cx="551.6" cy="828.3" r="4.7"/>
<circle cx="195.8" cy="822.6" r="4.7"/>
<circle cx="287.1" cy="837.9" r="4.7"/>
<circle cx="197.7" cy="809.1" r="4.7"/>
<circle cx="565.7" cy="850.4" r="4.7"/>
<circle cx="588.7" cy="843.6" r="4.7"/>
<circle cx="515.6" cy="801.1" r="4.7"/>
<circle cx="409.9" cy="845.8" r="4.7"/>
<circle cx="489.8" cy="861.4" r="4.7"/>
<circle cx="519.6" cy="820.8" r="4.7"/>
<circle cx="508.3" cy="866.8" r="4.7"/>
<circle cx="291.4" cy="822.8" r="4.7"/>
<circle cx="257.7" cy="872.2" r="4.7"/>
<circle cx="269.2" cy="864.0" r="4.7"/>
<circle cx="286.9" cy="808.9" r="4.7"/>
<circle cx="459.6" cy="842.2" r="4.7"/>
<circle cx="555.5" cy="838.8" r="4.7"/>
<circle cx="504.5" cy="827.0" r="4.7"/>
<circle cx="254.0" cy="831.0" r="4.7"/>
<circle cx="527.2" cy="848.4" r="4.7"/>
<circle cx="287.2" cy="864.4" r="4.7"/>
<circle cx="275.1" cy="859.6" r="4.7"/>
<circle cx="323.9" cy="826.6" r="4.7"/>
<circle cx="236.5" cy="841.0" r="4.7"/>
<circle cx="271.6" cy="871.1" r="4.7"/>
<circle cx="595.7" cy="830.0" r="4.7"/>
<circle cx="201.4" cy="817.3" r="4.7"/>
<circle cx="595.7" cy="859.6" r="4.7"/>
<circle cx="406.7" cy="839.8" r="4.7"/>
<circle cx="494.9" cy="857.5" r="4.7"/>
<circle cx="236.4" cy="849.7" r="4.7"/>
<circle cx="271.6" cy="851.3" r="4.7"/>
<circle cx="525.2" cy="866.9" r="4.7"/>
<circle cx="453.9" cy="859.5" r="4.7"/>
<circle cx="553.1" cy="802.1" r="4.7"/>
<circle cx="465.6" cy="845.6" r="4.7"/>
<circle cx="328.9" cy="857.8" r="4.7"/>
<circle cx="504.9" cy="843.5" r="4.7"/>
<circle cx="194.6" cy="859.5" r="4.7"/>
<circle cx="471.6" cy="864.7" r="4.7"/>
<circle cx="299.8" cy="816.0" r="4.7"/>
<circle cx="350.6" cy="850.0" r="4.7"/>
<circle cx="259.7" cy="823.6" r="4.7"/>
<circle cx="581.7" cy="842.5" r="4.7"/>
<circle cx="235.2" cy="829.8" r="4.7"/>
<circle cx="553.7" cy="858.3" r="4.7"/>
<circle cx="617.9" cy="841.5" r="4.7"/>
<circle cx="590.9" cy="835.5" r="4.7"/>
<circle cx="570.6" cy="826.0" r="4.7"/>
<circle cx="547.8" cy="853.0" r="4.7"/>
<circle cx="514.6" cy="813.0" r="4.7"/>
<circle cx="581.6" cy="856.3" r="4.7"/>
<circle cx="531.2" cy="803.2" r="4.7"/>
<circle cx="203.0" cy="858.1" r="4.7"/>
<circle cx="463.5" cy="853.6" r="4.7"/>
<circle cx="245.5" cy="807.2" r="4.7"/>
<circle cx="384.3" cy="848.3" r="4.7"/>
<circle cx="551.9" cy="808.9" r="4.7"/>
<circle cx="425.7" cy="851.1" r="4.7"/>
<circle cx="243.1" cy="829.5" r="4.7"/>
<circle cx="608.8" cy="821.9" r="4.7"/>
<circle cx="287.8" cy="850.6" r="4.7"/>
<circle cx="180.6" cy="810.2" r="4.7"/>
<circle cx="264.1" cy="869.0" r="4.7"/>
<circle cx="218.3" cy="869.0" r="4.7"/>
<circle cx="521.4" cy="845.6" r="4.7"/>
<circle cx="512.1" cy="829.2" r="4.7"/>
<circle cx="521.0" cy="806.7" r="4.7"/>
<circle cx="257.5" cy="799.8" r="4.7"/>
<circle cx="484.6" cy="822.1" r="4.7"/>
<circle cx="209.3" cy="859.9" r="4.7"/>
<circle cx="542.7" cy="848.5" r="4.7"/>
<circle cx="214.9" cy="821.7" r="4.7"/>
<circle cx="566.6" cy="813.4" r="4.7"/>
<circle cx="282.9" cy="870.7" r="4.7"/>
<circle cx="340.6" cy="831.2" r="4.7"/>
<circle cx="452.3" cy="832.5" r="4.7"/>
<circle cx="567.8" cy="870.7" r="4.7"/>
<circle cx="534.1" cy="836.1" r="4.7"/>
<circle cx="218.7" cy="839.3" r="4.7"/>
<circle cx="199.2" cy="839.9" r="4.7"/>
<circle cx="580.9" cy="809.0" r="4.7"/>
<circle cx="514.4" cy="871.4" r="4.7"/>
<circle cx="337.3" cy="837.8" r="4.7"/>
<circle cx="292.1" cy="844.9" r="4.7"/>
<circle cx="222.8" cy="853.3" r="4.7"/>
<circle cx="182.7" cy="844.1" r="4.7"/>
<circle cx="583.4" cy="825.9" r="4.7"/>
<circle cx="222.8" cy="797.3" r="4.7"/>
<circle cx="423.4" cy="843.1" r="4.7"/>
<circle cx="560.5" cy="825.9" r="4.7"/>
<circle cx="488.8" cy="843.2" r="4.7"/>
<circle cx="301.9" cy="837.4" r="4.7"/>
<circle cx="585.7" cy="864.5" r="4.7"/>
<circle cx="299.4" cy="852.5" r="4.7"/>
<circle cx="477.1" cy="812.9" r="4.7"/>
<circle cx="177.0" cy="823.7" r="4.7"/>
<circle cx="384.7" cy="841.7" r="4.7"/>
<circle cx="433.5" cy="856.4" r="4.7"/>
<circle cx="445.7" cy="824.5" r="4.7"/>
<circle cx="527.6" cy="827.5" r="4.7"/>
<circle cx="265.3" cy="852.9" r="4.7"/>
<circle cx="256.5" cy="837.3" r="4.7"/>
<circle cx="493.3" cy="867.4" r="4.7"/>
<circle cx="274.2" cy="831.9" r="4.7"/>
<circle cx="453.1" cy="838.9" r="4.7"/>
<circle cx="332.1" cy="851.2" r="4.7"/>
<circle cx="204.8" cy="796.7" r="4.7"/>
<circle cx="372.1" cy="847.1" r="4.7"/>
<circle cx="611.8" cy="848.8" r="4.7"/>
<circle cx="222.0" cy="818.9" r="4.7"/>
<circle cx="456.8" cy="853.5" r="4.7"/>
<circle cx="193.7" cy="866.2" r="4.7"/>
<circle cx="204.1" cy="810.4" r="4.7"/>
<circle cx="233.3" cy="823.0" r="4.7"/>
<circle cx="202.8" cy="846.2" r="4.7"/>
<circle cx="604.5" cy="839.8" r="4.7"/>
<circle cx="514.3" cy="851.2" r="4.7"/>
<circle cx="436.2" cy="835.6" r="4.7"/>
<circle cx="210.5" cy="831.9" r="4.7"/>
<circle cx="257.2" cy="864.5" r="4.7"/>
<circle cx="275.7" cy="838.2" r="4.7"/>
<circle cx="251.0" cy="872.8" r="4.7"/>
<circle cx="284.0" cy="823.7" r="4.7"/>
<circle cx="200.8" cy="827.2" r="4.7"/>
<circle cx="396.0" cy="848.0" r="4.7"/>
<circle cx="293.9" cy="867.9" r="4.7"/>
<circle cx="181.8" cy="859.9" r="4.7"/>
<circle cx="330.7" cy="836.2" r="4.7"/>
<circle cx="577.3" cy="828.6" r="4.7"/>
<circle cx="444.6" cy="859.4" r="4.7"/>
<circle cx="251.7" cy="842.7" r="4.7"/>
<circle cx="542.2" cy="825.2" r="4.7"/>
<circle cx="497.9" cy="826.4" r="4.7"/>
<circle cx="304.4" cy="861.8" r="4.7"/>
<circle cx="530.6" cy="809.7" r="4.7"/>
<circle cx="508.2" cy="813.5" r="4.7"/>
<circle cx="317.7" cy="837.6" r="4.7"/>
<circle cx="501.0" cy="803.2" r="4.7"/>
<circle cx="498.5" cy="872.7" r="4.7"/>
<circle cx="517.3" cy="877.3" r="4.7"/>
<circle cx="546.1" cy="869.2" r="4.7"/>
<circle cx="278.3" cy="848.9" r="4.7"/>
<circle cx="225.6" cy="810.0" r="4.7"/>
<circle cx="243.1" cy="797.8" r="4.7"/>
<circle cx="265.4" cy="820.6" r="4.7"/>
<circle cx="567.9" cy="835.7" r="4.7"/>
<circle cx="545.7" cy="814.2" r="4.7"/>
<circle cx="602.7" cy="818.6" r="4.7"/>
<circle cx="164.6" cy="834.8" r="4.7"/>
</g>
<g fill="#b06a80">
<circle cx="187.5" cy="838.5" r="1.3"/>
<circle cx="178.0" cy="831.9" r="1.3"/>
<circle cx="193.0" cy="801.2" r="1.3"/>
<circle cx="217.9" cy="813.1" r="1.3"/>
<circle cx="557.8" cy="819.0" r="1.3"/>
<circle cx="227.4" cy="803.6" r="1.3"/>
<circle cx="244.3" cy="845.2" r="1.3"/>
<circle cx="456.2" cy="826.4" r="1.3"/>
<circle cx="188.2" cy="811.5" r="1.3"/>
<circle cx="475.4" cy="831.4" r="1.3"/>
<circle cx="306.0" cy="845.5" r="1.3"/>
<circle cx="528.2" cy="855.7" r="1.3"/>
<circle cx="273.6" cy="844.5" r="1.3"/>
<circle cx="498.1" cy="818.9" r="1.3"/>
<circle cx="231.0" cy="836.9" r="1.3"/>
<circle cx="178.8" cy="852.9" r="1.3"/>
<circle cx="514.4" cy="844.4" r="1.3"/>
<circle cx="565.7" cy="821.2" r="1.3"/>
<circle cx="482.3" cy="846.3" r="1.3"/>
<circle cx="428.9" cy="833.9" r="1.3"/>
<circle cx="188.7" cy="855.9" r="1.3"/>
<circle cx="540.9" cy="818.6" r="1.3"/>
<circle cx="339.1" cy="853.0" r="1.3"/>
<circle cx="171.1" cy="834.4" r="1.3"/>
<circle cx="238.4" cy="803.5" r="1.3"/>
<circle cx="197.9" cy="833.3" r="1.3"/>
<circle cx="539.7" cy="870.5" r="1.3"/>
<circle cx="289.5" cy="830.3" r="1.3"/>
<circle cx="242.2" cy="813.8" r="1.3"/>
<circle cx="268.6" cy="836.5" r="1.3"/>
<circle cx="331.5" cy="843.8" r="1.3"/>
<circle cx="601.6" cy="854.9" r="1.3"/>
<circle cx="576.8" cy="862.9" r="1.3"/>
<circle cx="565.2" cy="864.5" r="1.3"/>
<circle cx="208.6" cy="849.9" r="1.3"/>
<circle cx="257.2" cy="807.6" r="1.3"/>
<circle cx="207.6" cy="825.6" r="1.3"/>
<circle cx="277.4" cy="824.2" r="1.3"/>
<circle cx="200.4" cy="802.2" r="1.3"/>
<circle cx="544.1" cy="807.5" r="1.3"/>
<circle cx="560.0" cy="855.4" r="1.3"/>
<circle cx="237.9" cy="862.2" r="1.3"/>
<circle cx="555.1" cy="865.3" r="1.3"/>
<circle cx="539.2" cy="859.3" r="1.3"/>
<circle cx="173.6" cy="818.1" r="1.3"/>
<circle cx="280.6" cy="855.1" r="1.3"/>
<circle cx="603.2" cy="833.1" r="1.3"/>
<circle cx="602.5" cy="825.7" r="1.3"/>
<circle cx="262.7" cy="813.4" r="1.3"/>
<circle cx="251.7" cy="811.4" r="1.3"/>
<circle cx="549.5" cy="836.0" r="1.3"/>
<circle cx="199.9" cy="852.2" r="1.3"/>
<circle cx="507.7" cy="835.9" r="1.3"/>
<circle cx="610.2" cy="828.5" r="1.3"/>
<circle cx="496.0" cy="808.3" r="1.3"/>
<circle cx="219.4" cy="806.6" r="1.3"/>
<circle cx="228.3" cy="867.1" r="1.3"/>
<circle cx="322.8" cy="842.2" r="1.3"/>
<circle cx="280.6" cy="830.6" r="1.3"/>
<circle cx="324.3" cy="834.1" r="1.3"/>
<circle cx="392.7" cy="840.7" r="1.3"/>
<circle cx="240.4" cy="835.5" r="1.3"/>
<circle cx="496.1" cy="842.9" r="1.3"/>
<circle cx="311.5" cy="839.5" r="1.3"/>
<circle cx="209.8" cy="843.3" r="1.3"/>
<circle cx="275.6" cy="817.9" r="1.3"/>
<circle cx="517.9" cy="838.5" r="1.3"/>
<circle cx="582.8" cy="832.8" r="1.3"/>
<circle cx="444.0" cy="838.4" r="1.3"/>
<circle cx="369.9" cy="840.8" r="1.3"/>
<circle cx="596.5" cy="816.3" r="1.3"/>
<circle cx="216.9" cy="832.7" r="1.3"/>
<circle cx="194.2" cy="814.6" r="1.3"/>
<circle cx="523.3" cy="873.4" r="1.3"/>
<circle cx="232.1" cy="857.2" r="1.3"/>
<circle cx="344.9" cy="836.7" r="1.3"/>
<circle cx="251.2" cy="821.6" r="1.3"/>
<circle cx="209.1" cy="816.8" r="1.3"/>
<circle cx="211.3" cy="807.5" r="1.3"/>
<circle cx="305.0" cy="820.4" r="1.3"/>
<circle cx="512.0" cy="819.0" r="1.3"/>
<circle cx="248.3" cy="835.6" r="1.3"/>
<circle cx="539.5" cy="831.8" r="1.3"/>
<circle cx="487.6" cy="850.0" r="1.3"/>
<circle cx="185.8" cy="804.7" r="1.3"/>
<circle cx="278.9" cy="807.7" r="1.3"/>
<circle cx="199.7" cy="868.4" r="1.3"/>
<circle cx="291.1" cy="814.8" r="1.3"/>
<circle cx="296.2" cy="834.2" r="1.3"/>
<circle cx="610.6" cy="842.1" r="1.3"/>
<circle cx="431.6" cy="840.5" r="1.3"/>
<circle cx="507.9" cy="852.0" r="1.3"/>
<circle cx="495.7" cy="850.7" r="1.3"/>
<circle cx="573.3" cy="849.3" r="1.3"/>
<circle cx="500.2" cy="865.8" r="1.3"/>
<circle cx="225.1" cy="840.0" r="1.3"/>
<circle cx="532.9" cy="867.1" r="1.3"/>
<circle cx="476.6" cy="855.2" r="1.3"/>
<circle cx="222.2" cy="825.4" r="1.3"/>
<circle cx="209.2" cy="867.9" r="1.3"/>
<circle cx="419.0" cy="849.3" r="1.3"/>
<circle cx="450.4" cy="854.0" r="1.3"/>
<circle cx="228.9" cy="815.8" r="1.3"/>
<circle cx="504.5" cy="820.3" r="1.3"/>
<circle cx="473.3" cy="819.1" r="1.3"/>
<circle cx="574.1" cy="810.9" r="1.3"/>
<circle cx="258.1" cy="845.2" r="1.3"/>
<circle cx="540.1" cy="838.6" r="1.3"/>
<circle cx="570.9" cy="856.1" r="1.3"/>
<circle cx="589.2" cy="856.9" r="1.3"/>
<circle cx="577.7" cy="819.0" r="1.3"/>
<circle cx="595.8" cy="842.3" r="1.3"/>
<circle cx="499.5" cy="833.5" r="1.3"/>
<circle cx="298.4" cy="859.3" r="1.3"/>
<circle cx="464.1" cy="820.0" r="1.3"/>
<circle cx="249.7" cy="801.2" r="1.3"/>
<circle cx="352.1" cy="840.0" r="1.3"/>
<circle cx="559.8" cy="812.4" r="1.3"/>
<circle cx="575.0" cy="835.5" r="1.3"/>
<circle cx="460.1" cy="861.6" r="1.3"/>
<circle cx="212.5" cy="799.4" r="1.3"/>
<circle cx="403.3" cy="845.3" r="1.3"/>
<circle cx="269.3" cy="815.2" r="1.3"/>
<circle cx="317.0" cy="830.7" r="1.3"/>
<circle cx="263.1" cy="861.2" r="1.3"/>
<circle cx="264.0" cy="830.4" r="1.3"/>
<circle cx="228.4" cy="828.3" r="1.3"/>
<circle cx="188.5" cy="828.3" r="1.3"/>
<circle cx="591.6" cy="822.6" r="1.3"/>
<circle cx="468.0" cy="827.0" r="1.3"/>
<circle cx="586.3" cy="816.1" r="1.3"/>
<circle cx="506.4" cy="873.6" r="1.3"/>
<circle cx="603.7" cy="848.3" r="1.3"/>
<circle cx="584.6" cy="849.9" r="1.3"/>
<circle cx="590.0" cy="809.4" r="1.3"/>
<circle cx="522.5" cy="800.1" r="1.3"/>
<circle cx="251.9" cy="860.5" r="1.3"/>
<circle cx="176.3" cy="842.6" r="1.3"/>
<circle cx="205.3" cy="837.7" r="1.3"/>
<circle cx="489.0" cy="833.1" r="1.3"/>
<circle cx="549.7" cy="819.4" r="1.3"/>
<circle cx="502.1" cy="810.9" r="1.3"/>
<circle cx="534.7" cy="851.6" r="1.3"/>
<circle cx="549.5" cy="875.0" r="1.3"/>
<circle cx="561.3" cy="833.3" r="1.3"/>
<circle cx="280.9" cy="862.7" r="1.3"/>
<circle cx="436.4" cy="848.6" r="1.3"/>
<circle cx="528.6" cy="842.2" r="1.3"/>
<circle cx="167.5" cy="842.5" r="1.3"/>
<circle cx="524.2" cy="813.0" r="1.3"/>
<circle cx="438.0" cy="842.3" r="1.3"/>
<circle cx="171.5" cy="848.5" r="1.3"/>
<circle cx="513.9" cy="862.9" r="1.3"/>
<circle cx="510.5" cy="807.3" r="1.3"/>
<circle cx="257.0" cy="816.6" r="1.3"/>
<circle cx="564.5" cy="842.8" r="1.3"/>
<circle cx="529.7" cy="816.8" r="1.3"/>
<circle cx="445.7" cy="831.8" r="1.3"/>
<circle cx="459.3" cy="832.8" r="1.3"/>
<circle cx="187.7" cy="862.8" r="1.3"/>
<circle cx="536.9" cy="808.7" r="1.3"/>
<circle cx="265.2" cy="802.5" r="1.3"/>
<circle cx="315.9" cy="860.2" r="1.3"/>
<circle cx="489.9" cy="816.9" r="1.3"/>
<circle cx="281.1" cy="814.2" r="1.3"/>
<circle cx="483.1" cy="859.1" r="1.3"/>
<circle cx="191.1" cy="846.0" r="1.3"/>
<circle cx="308.3" cy="831.0" r="1.3"/>
<circle cx="291.4" cy="857.2" r="1.3"/>
<circle cx="554.5" cy="848.5" r="1.3"/>
<circle cx="321.1" cy="856.2" r="1.3"/>
<circle cx="484.3" cy="837.7" r="1.3"/>
<circle cx="467.0" cy="859.5" r="1.3"/>
<circle cx="486.0" cy="868.6" r="1.3"/>
<circle cx="251.4" cy="850.2" r="1.3"/>
<circle cx="226.3" cy="847.1" r="1.3"/>
<circle cx="518.7" cy="855.8" r="1.3"/>
<circle cx="520.7" cy="827.9" r="1.3"/>
<circle cx="257.9" cy="854.4" r="1.3"/>
<circle cx="220.5" cy="862.6" r="1.3"/>
<circle cx="377.7" cy="843.4" r="1.3"/>
<circle cx="324.0" cy="850.3" r="1.3"/>
<circle cx="334.1" cy="830.6" r="1.3"/>
<circle cx="313.7" cy="821.5" r="1.3"/>
<circle cx="299.1" cy="845.6" r="1.3"/>
<circle cx="183.7" cy="820.0" r="1.3"/>
<circle cx="446.0" cy="849.2" r="1.3"/>
<circle cx="469.2" cy="834.1" r="1.3"/>
<circle cx="535.5" cy="844.6" r="1.3"/>
<circle cx="167.2" cy="827.7" r="1.3"/>
<circle cx="614.4" cy="835.7" r="1.3"/>
<circle cx="538.8" cy="800.2" r="1.3"/>
<circle cx="237.5" cy="870.2" r="1.3"/>
<circle cx="314.3" cy="847.3" r="1.3"/>
<circle cx="356.1" cy="845.6" r="1.3"/>
<circle cx="441.4" cy="853.8" r="1.3"/>
<circle cx="526.9" cy="834.2" r="1.3"/>
<circle cx="244.3" cy="855.9" r="1.3"/>
<circle cx="229.6" cy="797.0" r="1.3"/>
<circle cx="437.3" cy="828.7" r="1.3"/>
<circle cx="548.0" cy="797.3" r="1.3"/>
<circle cx="271.0" cy="805.9" r="1.3"/>
<circle cx="561.6" cy="872.7" r="1.3"/>
<circle cx="534.0" cy="823.6" r="1.3"/>
<circle cx="246.7" cy="867.6" r="1.3"/>
<circle cx="216.5" cy="857.1" r="1.3"/>
<circle cx="309.2" cy="856.8" r="1.3"/>
<circle cx="484.0" cy="810.5" r="1.3"/>
<circle cx="542.8" cy="877.1" r="1.3"/>
<circle cx="532.8" cy="874.8" r="1.3"/>
<circle cx="594.1" cy="849.8" r="1.3"/>
<circle cx="216.4" cy="846.3" r="1.3"/>
<circle cx="337.9" cy="845.5" r="1.3"/>
<circle cx="418.2" cy="837.1" r="1.3"/>
<circle cx="502.4" cy="859.7" r="1.3"/>
<circle cx="400.0" cy="839.4" r="1.3"/>
<circle cx="473.6" cy="840.1" r="1.3"/>
<circle cx="346.1" cy="843.4" r="1.3"/>
<circle cx="364.3" cy="849.0" r="1.3"/>
<circle cx="239.6" cy="821.6" r="1.3"/>
<circle cx="452.2" cy="847.1" r="1.3"/>
<circle cx="491.6" cy="824.8" r="1.3"/>
<circle cx="564.2" cy="804.1" r="1.3"/>
<circle cx="235.6" cy="810.8" r="1.3"/>
<circle cx="300.9" cy="827.2" r="1.3"/>
<circle cx="549.0" cy="844.1" r="1.3"/>
<circle cx="546.6" cy="862.6" r="1.3"/>
<circle cx="507.4" cy="800.8" r="1.3"/>
<circle cx="482.0" cy="828.3" r="1.3"/>
<circle cx="358.8" cy="838.9" r="1.3"/>
<circle cx="281.5" cy="842.0" r="1.3"/>
<circle cx="473.6" cy="847.6" r="1.3"/>
<circle cx="572.4" cy="842.2" r="1.3"/>
<circle cx="265.5" cy="844.4" r="1.3"/>
<circle cx="270.3" cy="826.4" r="1.3"/>
<circle cx="479.6" cy="865.5" r="1.3"/>
<circle cx="551.6" cy="828.3" r="1.3"/>
<circle cx="195.8" cy="822.6" r="1.3"/>
<circle cx="287.1" cy="837.9" r="1.3"/>
<circle cx="197.7" cy="809.1" r="1.3"/>
<circle cx="565.7" cy="850.4" r="1.3"/>
<circle cx="588.7" cy="843.6" r="1.3"/>
<circle cx="515.6" cy="801.1" r="1.3"/>
<circle cx="409.9" cy="845.8" r="1.3"/>
<circle cx="489.8" cy="861.4" r="1.3"/>
<circle cx="519.6" cy="820.8" r="1.3"/>
<circle cx="508.3" cy="866.8" r="1.3"/>
<circle cx="291.4" cy="822.8" r="1.3"/>
<circle cx="257.7" cy="872.2" r="1.3"/>
<circle cx="269.2" cy="864.0" r="1.3"/>
<circle cx="286.9" cy="808.9" r="1.3"/>
<circle cx="459.6" cy="842.2" r="1.3"/>
<circle cx="555.5" cy="838.8" r="1.3"/>
<circle cx="504.5" cy="827.0" r="1.3"/>
<circle cx="254.0" cy="831.0" r="1.3"/>
<circle cx="527.2" cy="848.4" r="1.3"/>
<circle cx="287.2" cy="864.4" r="1.3"/>
<circle cx="275.1" cy="859.6" r="1.3"/>
<circle cx="323.9" cy="826.6" r="1.3"/>
<circle cx="236.5" cy="841.0" r="1.3"/>
<circle cx="271.6" cy="871.1" r="1.3"/>
<circle cx="595.7" cy="830.0" r="1.3"/>
<circle cx="201.4" cy="817.3" r="1.3"/>
<circle cx="595.7" cy="859.6" r="1.3"/>
<circle cx="406.7" cy="839.8" r="1.3"/>
<circle cx="494.9" cy="857.5" r="1.3"/>
<circle cx="236.4" cy="849.7" r="1.3"/>
<circle cx="271.6" cy="851.3" r="1.3"/>
<circle cx="525.2" cy="866.9" r="1.3"/>
<circle cx="453.9" cy="859.5" r="1.3"/>
<circle cx="553.1" cy="802.1" r="1.3"/>
<circle cx="465.6" cy="845.6" r="1.3"/>
<circle cx="328.9" cy="857.8" r="1.3"/>
<circle cx="504.9" cy="843.5" r="1.3"/>
<circle cx="194.6" cy="859.5" r="1.3"/>
<circle cx="471.6" cy="864.7" r="1.3"/>
<circle cx="299.8" cy="816.0" r="1.3"/>
<circle cx="350.6" cy="850.0" r="1.3"/>
<circle cx="259.7" cy="823.6" r="1.3"/>
<circle cx="581.7" cy="842.5" r="1.3"/>
<circle cx="235.2" cy="829.8" r="1.3"/>
<circle cx="553.7" cy="858.3" r="1.3"/>
<circle cx="617.9" cy="841.5" r="1.3"/>
<circle cx="590.9" cy="835.5" r="1.3"/>
<circle cx="570.6" cy="826.0" r="1.3"/>
<circle cx="547.8" cy="853.0" r="1.3"/>
<circle cx="514.6" cy="813.0" r="1.3"/>
<circle cx="581.6" cy="856.3" r="1.3"/>
<circle cx="531.2" cy="803.2" r="1.3"/>
<circle cx="203.0" cy="858.1" r="1.3"/>
<circle cx="463.5" cy="853.6" r="1.3"/>
<circle cx="245.5" cy="807.2" r="1.3"/>
<circle cx="384.3" cy="848.3" r="1.3"/>
<circle cx="551.9" cy="808.9" r="1.3"/>
<circle cx="425.7" cy="851.1" r="1.3"/>
<circle cx="243.1" cy="829.5" r="1.3"/>
<circle cx="608.8" cy="821.9" r="1.3"/>
<circle cx="287.8" cy="850.6" r="1.3"/>
<circle cx="180.6" cy="810.2" r="1.3"/>
<circle cx="264.1" cy="869.0" r="1.3"/>
<circle cx="218.3" cy="869.0" r="1.3"/>
<circle cx="521.4" cy="845.6" r="1.3"/>
<circle cx="512.1" cy="829.2" r="1.3"/>
<circle cx="521.0" cy="806.7" r="1.3"/>
<circle cx="257.5" cy="799.8" r="1.3"/>
<circle cx="484.6" cy="822.1" r="1.3"/>
<circle cx="209.3" cy="859.9" r="1.3"/>
<circle cx="542.7" cy="848.5" r="1.3"/>
<circle cx="214.9" cy="821.7" r="1.3"/>
<circle cx="566.6" cy="813.4" r="1.3"/>
<circle cx="282.9" cy="870.7" r="1.3"/>
<circle cx="340.6" cy="831.2" r="1.3"/>
<circle cx="452.3" cy="832.5" r="1.3"/>
<circle cx="567.8" cy="870.7" r="1.3"/>
<circle cx="534.1" cy="836.1" r="1.3"/>
<circle cx="218.7" cy="839.3" r="1.3"/>
<circle cx="199.2" cy="839.9" r="1.3"/>
<circle cx="580.9" cy="809.0" r="1.3"/>
<circle cx="514.4" cy="871.4" r="1.3"/>
<circle cx="337.3" cy="837.8" r="1.3"/>
<circle cx="292.1" cy="844.9" r="1.3"/>
<circle cx="222.8" cy="853.3" r="1.3"/>
<circle cx="182.7" cy="844.1" r="1.3"/>
<circle cx="583.4" cy="825.9" r="1.3"/>
<circle cx="222.8" cy="797.3" r="1.3"/>
<circle cx="423.4" cy="843.1" r="1.3"/>
<circle cx="560.5" cy="825.9" r="1.3"/>
<circle cx="488.8" cy="843.2" r="1.3"/>
<circle cx="301.9" cy="837.4" r="1.3"/>
<circle cx="585.7" cy="864.5" r="1.3"/>
<circle cx="299.4" cy="852.5" r="1.3"/>
<circle cx="477.1" cy="812.9" r="1.3"/>
<circle cx="177.0" cy="823.7" r="1.3"/>
<circle cx="384.7" cy="841.7" r="1.3"/>
<circle cx="433.5" cy="856.4" r="1.3"/>
<circle cx="445.7" cy="824.5" r="1.3"/>
<circle cx="527.6" cy="827.5" r="1.3"/>
<circle cx="265.3" cy="852.9" r="1.3"/>
<circle cx="256.5" cy="837.3" r="1.3"/>
<circle cx="493.3" cy="867.4" r="1.3"/>
<circle cx="274.2" cy="831.9" r="1.3"/>
<circle cx="453.1" cy="838.9" r="1.3"/>
<circle cx="332.1" cy="851.2" r="1.3"/>
<circle cx="204.8" cy="796.7" r="1.3"/>
<circle cx="372.1" cy="847.1" r="1.3"/>
<circle cx="611.8" cy="848.8" r="1.3"/>
<circle cx="222.0" cy="818.9" r="1.3"/>
<circle cx="456.8" cy="853.5" r="1.3"/>
<circle cx="193.7" cy="866.2" r="1.3"/>
<circle cx="204.1" cy="810.4" r="1.3"/>
<circle cx="233.3" cy="823.0" r="1.3"/>
<circle cx="202.8" cy="846.2" r="1.3"/>
<circle cx="604.5" cy="839.8" r="1.3"/>
<circle cx="514.3" cy="851.2" r="1.3"/>
<circle cx="436.2" cy="835.6" r="1.3"/>
<circle cx="210.5" cy="831.9" r="1.3"/>
<circle cx="257.2" cy="864.5" r="1.3"/>
<circle cx="275.7" cy="838.2" r="1.3"/>
<circle cx="251.0" cy="872.8" r="1.3"/>
<circle cx="284.0" cy="823.7" r="1.3"/>
<circle cx="200.8" cy="827.2" r="1.3"/>
<circle cx="396.0" cy="848.0" r="1.3"/>
<circle cx="293.9" cy="867.9" r="1.3"/>
<circle cx="181.8" cy="859.9" r="1.3"/>
<circle cx="330.7" cy="836.2" r="1.3"/>
<circle cx="577.3" cy="828.6" r="1.3"/>
<circle cx="444.6" cy="859.4" r="1.3"/>
<circle cx="251.7" cy="842.7" r="1.3"/>
<circle cx="542.2" cy="825.2" r="1.3"/>
<circle cx="497.9" cy="826.4" r="1.3"/>
<circle cx="304.4" cy="861.8" r="1.3"/>
<circle cx="530.6" cy="809.7" r="1.3"/>
<circle cx="508.2" cy="813.5" r="1.3"/>
<circle cx="317.7" cy="837.6" r="1.3"/>
<circle cx="501.0" cy="803.2" r="1.3"/>
<circle cx="498.5" cy="872.7" r="1.3"/>
<circle cx="517.3" cy="877.3" r="1.3"/>
<circle cx="546.1" cy="869.2" r="1.3"/>
<circle cx="278.3" cy="848.9" r="1.3"/>
<circle cx="225.6" cy="810.0" r="1.3"/>
<circle cx="243.1" cy="797.8" r="1.3"/>
<circle cx="265.4" cy="820.6" r="1.3"/>
<circle cx="567.9" cy="835.7" r="1.3"/>
<circle cx="545.7" cy="814.2" r="1.3"/>
<circle cx="602.7" cy="818.6" r="1.3"/>
<circle cx="164.6" cy="834.8" r="1.3"/>
</g>
<g fill="#ffd9b4" stroke="#1440d4" stroke-width="2.6">
<circle cx="210.4" cy="779.8" r="4.2"/>
<circle cx="242.5" cy="780.4" r="4.2"/>
<circle cx="279.0" cy="788.0" r="4.2"/>
<circle cx="170.6" cy="795.7" r="4.2"/>
<circle cx="318.8" cy="804.8" r="4.2"/>
<circle cx="354.9" cy="816.9" r="4.2"/>
<circle cx="382.3" cy="822.5" r="4.2"/>
<circle cx="151.4" cy="819.6" r="4.2"/>
<circle cx="148.9" cy="838.8" r="4.2"/>
<circle cx="153.4" cy="856.1" r="4.2"/>
<circle cx="166.2" cy="876.5" r="4.2"/>
<circle cx="185.4" cy="884.4" r="4.2"/>
<circle cx="213.1" cy="888.6" r="4.2"/>
<circle cx="241.9" cy="890.4" r="4.2"/>
<circle cx="277.3" cy="888.8" r="4.2"/>
<circle cx="308.2" cy="883.1" r="4.2"/>
<circle cx="340.5" cy="874.2" r="4.2"/>
<circle cx="374.2" cy="863.2" r="4.2"/>
<circle cx="416.4" cy="819.2" r="4.2"/>
<circle cx="448.1" cy="807.9" r="4.2"/>
<circle cx="479.5" cy="794.8" r="4.2"/>
<circle cx="523.3" cy="780.7" r="4.2"/>
<circle cx="560.2" cy="782.0" r="4.2"/>
<circle cx="587.2" cy="790.2" r="4.2"/>
<circle cx="617.1" cy="805.9" r="4.2"/>
<circle cx="632.8" cy="835.5" r="4.2"/>
<circle cx="612.9" cy="871.2" r="4.2"/>
<circle cx="585.7" cy="883.8" r="4.2"/>
<circle cx="550.3" cy="892.2" r="4.2"/>
<circle cx="506.0" cy="889.7" r="4.2"/>
<circle cx="467.5" cy="881.1" r="4.2"/>
<circle cx="436.3" cy="871.6" r="4.2"/>
<circle cx="404.2" cy="863.8" r="4.2"/>
</g>
</g>
<ellipse cx="244.7" cy="761" rx="73.3" ry="10.4" fill="none" stroke="#3a30f2" stroke-width="3.7"/><path d="M171.39999999999998 761V798.3A73.3 10.4 0 0 0 318.0 798.3V761" fill="none" stroke="#3a30f2" stroke-width="3.7"/>
<g stroke="#3f3f3f" stroke-width="4.3" fill="none"><path d="M96.1 828V942.5H160"/><path d="M98 940L104.6 900"/></g>
<g fill="#3f3f3f"><path d="M95.5 813L87.2 829.5H103.8Z"/><path d="M172.5 942.5L156.8 934V951Z"/><path d="M106 885L97.8 900.5L111.3 902.3Z"/></g>
<g font-family="'Liberation Serif','Times New Roman',serif" font-size="35.5" fill="#111"><text x="73" y="849.3">z</text><text x="96.5" y="877.5">y</text><text x="174.5" y="959.6">x</text></g>
<text x="1" y="727.5" font-family="'Liberation Serif','Times New Roman',serif" font-weight="bold" font-size="61.5" fill="#000">d</text>
</g>
<g id="panel-e">
<use href="#rbc" transform="translate(673 -1.1)"/>
<ellipse cx="923" cy="758" rx="76" ry="33" transform="rotate(9 923 758)" fill="#ffff00" fill-opacity="0.4"/>
<ellipse cx="1221.5" cy="762" rx="51" ry="25" transform="rotate(13 1221.5 762)" fill="#ffff00" fill-opacity="0.4"/>
<circle cx="896.5" cy="748.7" r="8.3" fill="url(#gOlive)"/><circle cx="940.3" cy="753.1" r="8.3" fill="url(#gOlive)"/><circle cx="886.5" cy="758.6" r="8.3" fill="url(#gOlive)"/><circle cx="908.7" cy="759.7" r="8.3" fill="url(#gOlive)"/><circle cx="925.5" cy="758.0" r="8.3" fill="url(#gOlive)"/><circle cx="937.0" cy="761.9" r="8.3" fill="url(#gOlive)"/><circle cx="952.9" cy="758.0" r="8.3" fill="url(#gOlive)"/><circle cx="965.8" cy="766.4" r="8.3" fill="url(#gOlive)"/><circle cx="950.3" cy="766.4" r="8.3" fill="url(#gOlive)"/><circle cx="948.1" cy="776.3" r="8.3" fill="url(#gOlive)"/>
<circle cx="1200.8" cy="749.8" r="8.3" fill="url(#gOlive)"/><circle cx="1216.9" cy="753.1" r="8.3" fill="url(#gOlive)"/><circle cx="1245.0" cy="754.9" r="8.3" fill="url(#gOlive)"/><circle cx="1230.2" cy="753.1" r="8.3" fill="url(#gOlive)"/><circle cx="1192.6" cy="760.8" r="8.3" fill="url(#gOlive)"/><circle cx="1208.1" cy="758.0" r="8.3" fill="url(#gOlive)"/><circle cx="1209.2" cy="766.4" r="8.3" fill="url(#gOlive)"/><circle cx="1221.4" cy="765.3" r="8.3" fill="url(#gOlive)"/><circle cx="1234.6" cy="766.4" r="8.3" fill="url(#gOlive)"/><circle cx="1249.5" cy="773.7" r="8.3" fill="url(#gOlive)"/>
<circle cx="1083.1" cy="763.1" r="7.4" fill="url(#gGray)"/><circle cx="1097.5" cy="765.3" r="7.4" fill="url(#gGray)"/><circle cx="1095.3" cy="774.1" r="7.4" fill="url(#gGray)"/><circle cx="1075.4" cy="770.4" r="7.4" fill="url(#gGray)"/><circle cx="1080.9" cy="781.9" r="7.4" fill="url(#gGray)"/><circle cx="1065.4" cy="780.8" r="7.4" fill="url(#gGray)"/><circle cx="1052.1" cy="780.1" r="7.4" fill="url(#gGray)"/><circle cx="1045.5" cy="790.7" r="7.4" fill="url(#gGray)"/><circle cx="1057.7" cy="791.8" r="7.4" fill="url(#gGray)"/><circle cx="1070.9" cy="792.9" r="7.4" fill="url(#gGray)"/><circle cx="1049.9" cy="802.2" r="7.4" fill="url(#gGray)"/>
<ellipse cx="917.6" cy="759.8" rx="73.3" ry="10.4" fill="none" stroke="#3a30f2" stroke-width="3.7"/><path d="M844.3000000000001 759.8V797.2A73.3 10.4 0 0 0 990.9 797.2V759.8" fill="none" stroke="#3a30f2" stroke-width="3.7"/>
<text x="725" y="717.5" font-family="'Liberation Serif','Times New Roman',serif" font-weight="bold" font-size="61.5" fill="#000">e</text>
</g>
<g id="legend">
<circle cx="144.2" cy="1048.9" r="10.9" fill="#fff" stroke="#1038c4" stroke-width="10.6"/>
<text x="174.5" y="1059.4" font-family="'Liberation Serif','Times New Roman',serif" font-size="36.6" fill="#111" textLength="153.5" lengthAdjust="spacingAndGlyphs">deoxyHb<tspan font-size="24.5" dy="7">m</tspan></text>
<circle cx="397.5" cy="1043.9" r="14.6" fill="#c00008" stroke="#44589c" stroke-width="1.8"/><circle cx="397.5" cy="1043.9" r="2.6" fill="#e8eefc" stroke="#5a78c8" stroke-width="1"/>
<text x="431" y="1055.7" font-family="'Liberation Serif','Times New Roman',serif" font-size="36.6" fill="#111" textLength="109.6" lengthAdjust="spacingAndGlyphs">oxyHb<tspan font-size="24.5" dy="7">c</tspan></text>
<ellipse cx="659" cy="1029.6" rx="34.8" ry="7.6" fill="none" stroke="#3a30f2" stroke-width="2.0"/><path d="M624.2 1029.6V1055.6A34.8 7.6 0 0 0 693.8 1055.6V1029.6" fill="none" stroke="#3a30f2" stroke-width="2.0"/>
<text x="710.3" y="1058.5" font-family="'Liberation Serif','Times New Roman',serif" font-size="36.6" fill="#111" textLength="103" lengthAdjust="spacingAndGlyphs">sample</text>
<text x="829.6" y="1058.5" font-family="'Liberation Serif','Times New Roman',serif" font-size="36.6" fill="#111" textLength="109.6" lengthAdjust="spacingAndGlyphs">volume</text>
<circle cx="1014.4" cy="1031.2" r="12.2" fill="url(#gGray)"/><circle cx="1044.3" cy="1031.2" r="12.2" fill="url(#gGray)"/><circle cx="1026.9" cy="1046.0" r="12.2" fill="url(#gGray)"/>
<text x="1076" y="1050.9" font-family="'Liberation Serif','Times New Roman',serif" font-size="36.6" fill="#111" textLength="105.4" lengthAdjust="spacingAndGlyphs">AgNPs</text>
<text x="1197.5" y="1050.9" font-family="'Liberation Serif','Times New Roman',serif" font-size="36.6" fill="#111" textLength="156.2" lengthAdjust="spacingAndGlyphs">aggregates</text>
</g>
<g id="panel-f">
<defs>
<linearGradient id="gFace" x1="0" y1="0" x2="1" y2="0"><stop offset="0" stop-color="#d89d9d"/><stop offset="0.6" stop-color="#d8a2a2"/><stop offset="1" stop-color="#dcaaaa"/></linearGradient>
<linearGradient id="gRim" x1="0" y1="0" x2="0" y2="1"><stop offset="0" stop-color="#f0c6c8"/><stop offset="0.6" stop-color="#eccacc"/><stop offset="1" stop-color="#ddc8ca"/></linearGradient>
<linearGradient id="gDisc3" x1="0" y1="0" x2="1" y2="0"><stop offset="0" stop-color="#e6c2c6"/><stop offset="0.5" stop-color="#dfc6ca"/><stop offset="1" stop-color="#dccdce"/></linearGradient>
<radialGradient id="gGrayD" cx="0.4" cy="0.28" r="0.8"><stop offset="0" stop-color="#a8a8a8"/><stop offset="0.4" stop-color="#7c7c7c"/><stop offset="1" stop-color="#484848"/></radialGradient>
<radialGradient id="gGlow2" cx="0.5" cy="0.5" r="0.5"><stop offset="0" stop-color="#6a5ac0" stop-opacity="0.7"/><stop offset="0.6" stop-color="#8a7acc" stop-opacity="0.45"/><stop offset="1" stop-color="#a090d8" stop-opacity="0"/></radialGradient>
<filter id="fSh" x="-10%" y="-10%" width="120%" height="130%"><feGaussianBlur stdDeviation="5"/></filter>
<filter id="fB08" x="-10%" y="-10%" width="120%" height="120%"><feGaussianBlur stdDeviation="0.8"/></filter>
</defs>
<path d="M1495.8 707.4 C1499.9 704.8 1501.1 703.6 1506.6 703.3 C1512.1 703.0 1521.4 704.8 1528.8 705.5 C1536.2 706.2 1543.7 707.0 1551.1 707.7 C1558.5 708.4 1565.9 709.2 1573.3 709.9 C1580.7 710.6 1588.1 711.4 1595.5 712.1 C1602.9 712.8 1610.4 713.6 1617.8 714.3 C1625.2 715.0 1633.0 715.8 1640.0 716.5 C1647.0 717.2 1653.3 718.0 1659.9 718.7 C1666.6 719.5 1673.2 720.2 1679.8 720.9 C1686.5 721.7 1693.1 722.4 1699.8 723.2 C1706.4 723.9 1713.0 724.6 1719.7 725.4 C1726.3 726.1 1733.5 726.1 1739.6 727.6 C1745.7 729.1 1750.7 730.7 1756.2 734.2 C1761.7 737.7 1768.1 742.1 1772.7 748.6 C1777.3 755.1 1780.7 764.3 1783.8 773.0 C1786.9 781.7 1789.5 791.1 1791.5 800.6 C1793.5 810.1 1794.8 820.9 1795.5 830.0 C1796.2 839.1 1796.2 846.7 1796.0 855.0 C1795.8 863.3 1795.2 872.5 1794.5 880.0 C1793.8 887.5 1792.5 893.9 1791.5 900.0 C1790.5 906.1 1790.4 909.2 1788.2 916.6 C1786.0 924.0 1782.7 935.0 1778.3 944.2 C1773.9 953.4 1767.2 964.3 1761.7 971.9 C1756.2 979.5 1750.6 985.2 1745.1 989.6 C1739.6 994.0 1733.5 996.6 1728.5 998.5 C1723.5 1000.4 1719.8 1000.7 1715.2 1000.7 C1710.6 1000.7 1706.6 1000.0 1700.8 998.5 C1695.0 997.0 1687.3 993.8 1680.5 991.5 C1673.8 989.1 1667.0 986.8 1660.3 984.4 C1653.5 982.1 1649.2 980.8 1640.0 977.4 C1630.8 974.0 1614.4 967.7 1604.9 964.2 C1595.4 960.7 1590.1 959.0 1582.8 956.5 C1575.4 953.9 1568.4 951.6 1560.6 948.7 C1552.8 945.8 1544.0 942.4 1535.7 939.3 C1527.4 936.2 1518.3 932.9 1510.8 929.9 C1503.3 926.9 1496.1 924.1 1490.9 921.0 C1485.8 917.9 1482.9 914.5 1479.9 911.0 C1477.0 907.5 1475.7 906.8 1473.2 900.0 C1470.7 893.2 1467.1 880.0 1465.0 870.0 C1462.9 860.0 1461.3 850.0 1460.5 840.0 C1459.7 830.0 1459.5 820.2 1459.9 810.0 C1460.4 799.8 1461.4 789.3 1463.2 778.5 C1465.0 767.7 1467.9 755.2 1471.0 745.3 C1474.1 735.3 1477.9 725.1 1482.0 718.8 C1486.1 712.5 1491.7 710.0 1495.8 707.4Z" fill="#9a9a9a" fill-opacity="0.2" filter="url(#fSh)" transform="translate(0 5)"/>
<path d="M1495.8 707.4 C1499.9 704.8 1501.1 703.6 1506.6 703.3 C1512.1 703.0 1521.4 704.8 1528.8 705.5 C1536.2 706.2 1543.7 707.0 1551.1 707.7 C1558.5 708.4 1565.9 709.2 1573.3 709.9 C1580.7 710.6 1588.1 711.4 1595.5 712.1 C1602.9 712.8 1610.4 713.6 1617.8 714.3 C1625.2 715.0 1633.0 715.8 1640.0 716.5 C1647.0 717.2 1653.3 718.0 1659.9 718.7 C1666.6 719.5 1673.2 720.2 1679.8 720.9 C1686.5 721.7 1693.1 722.4 1699.8 723.2 C1706.4 723.9 1713.0 724.6 1719.7 725.4 C1726.3 726.1 1733.5 726.1 1739.6 727.6 C1745.7 729.1 1750.7 730.7 1756.2 734.2 C1761.7 737.7 1768.1 742.1 1772.7 748.6 C1777.3 755.1 1780.7 764.3 1783.8 773.0 C1786.9 781.7 1789.5 791.1 1791.5 800.6 C1793.5 810.1 1794.8 820.9 1795.5 830.0 C1796.2 839.1 1796.2 846.7 1796.0 855.0 C1795.8 863.3 1795.2 872.5 1794.5 880.0 C1793.8 887.5 1792.5 893.9 1791.5 900.0 C1790.5 906.1 1790.4 909.2 1788.2 916.6 C1786.0 924.0 1782.7 935.0 1778.3 944.2 C1773.9 953.4 1767.2 964.3 1761.7 971.9 C1756.2 979.5 1750.6 985.2 1745.1 989.6 C1739.6 994.0 1733.5 996.6 1728.5 998.5 C1723.5 1000.4 1719.8 1000.7 1715.2 1000.7 C1710.6 1000.7 1706.6 1000.0 1700.8 998.5 C1695.0 997.0 1687.3 993.8 1680.5 991.5 C1673.8 989.1 1667.0 986.8 1660.3 984.4 C1653.5 982.1 1649.2 980.8 1640.0 977.4 C1630.8 974.0 1614.4 967.7 1604.9 964.2 C1595.4 960.7 1590.1 959.0 1582.8 956.5 C1575.4 953.9 1568.4 951.6 1560.6 948.7 C1552.8 945.8 1544.0 942.4 1535.7 939.3 C1527.4 936.2 1518.3 932.9 1510.8 929.9 C1503.3 926.9 1496.1 924.1 1490.9 921.0 C1485.8 917.9 1482.9 914.5 1479.9 911.0 C1477.0 907.5 1475.7 906.8 1473.2 900.0 C1470.7 893.2 1467.1 880.0 1465.0 870.0 C1462.9 860.0 1461.3 850.0 1460.5 840.0 C1459.7 830.0 1459.5 820.2 1459.9 810.0 C1460.4 799.8 1461.4 789.3 1463.2 778.5 C1465.0 767.7 1467.9 755.2 1471.0 745.3 C1474.1 735.3 1477.9 725.1 1482.0 718.8 C1486.1 712.5 1491.7 710.0 1495.8 707.4Z" fill="url(#gRim)" stroke="#f4dcdc" stroke-width="1"/>
<path d="M1503.0 710.3 C1509.0 708.6 1517.9 711.7 1525.3 712.5 C1532.8 713.2 1540.2 713.9 1547.7 714.6 C1555.1 715.4 1562.4 716.1 1570.0 716.8 C1577.6 717.5 1585.6 718.2 1593.3 718.9 C1601.1 719.6 1608.9 720.4 1616.7 721.1 C1624.4 721.8 1632.4 722.5 1640.0 723.2 C1647.6 723.9 1654.8 724.7 1662.1 725.4 C1669.5 726.1 1676.9 726.9 1684.2 727.6 C1691.6 728.3 1699.0 729.1 1706.4 729.8 C1713.8 730.5 1722.0 730.5 1728.5 732.0 C1735.0 733.5 1739.9 735.4 1745.1 738.7 C1750.3 742.0 1755.3 746.3 1759.5 752.0 C1763.7 757.7 1767.4 765.8 1770.5 773.0 C1773.6 780.2 1776.3 787.3 1778.3 795.1 C1780.3 802.9 1781.6 810.9 1782.6 820.0 C1783.6 829.1 1784.3 840.3 1784.5 850.0 C1784.7 859.7 1784.2 869.7 1783.5 878.0 C1782.8 886.3 1781.4 894.5 1780.5 900.0 C1779.6 905.5 1779.6 905.6 1778.3 911.1 C1777.0 916.6 1775.1 925.8 1772.7 933.2 C1770.3 940.6 1767.2 948.3 1763.9 955.3 C1760.6 962.3 1756.8 970.0 1752.8 975.2 C1748.8 980.4 1743.6 983.5 1739.6 986.3 C1735.5 989.1 1732.2 990.7 1728.5 991.8 C1724.8 992.9 1722.0 993.3 1717.4 992.9 C1712.8 992.5 1706.9 991.5 1700.8 989.6 C1694.7 987.7 1687.3 984.2 1680.5 981.5 C1673.8 978.8 1667.0 976.1 1660.3 973.4 C1653.5 970.7 1649.2 968.9 1640.0 965.3 C1630.8 961.7 1614.4 955.5 1604.9 952.0 C1595.4 948.5 1590.1 946.8 1582.8 944.2 C1575.4 941.7 1569.8 939.8 1560.6 936.5 C1551.4 933.2 1536.2 927.6 1527.4 924.3 C1518.6 921.0 1512.7 919.2 1507.5 916.6 C1502.3 914.0 1499.3 911.6 1496.5 908.8 C1493.7 906.0 1493.8 906.5 1490.9 900.0 C1488.0 893.5 1482.1 880.0 1479.0 870.0 C1475.9 860.0 1473.7 850.0 1472.3 840.0 C1470.9 830.0 1470.2 820.2 1470.4 810.0 C1470.6 799.8 1471.6 789.3 1473.2 778.5 C1474.8 767.7 1477.1 754.6 1479.8 745.3 C1482.5 736.0 1485.6 728.3 1489.5 722.5 C1493.4 716.7 1497.0 712.0 1503.0 710.3Z" fill="url(#gFace)"/>
<path d="M1722.0 729.4 C1724.0 729.8 1730.0 730.2 1734.0 731.5 C1738.0 732.8 1741.5 733.8 1746.0 737.0 C1750.5 740.2 1756.6 744.7 1761.0 750.5 C1765.4 756.3 1769.3 764.6 1772.5 772.0 C1775.7 779.4 1778.2 787.0 1780.3 795.0 C1782.3 803.0 1783.7 810.8 1784.8 820.0 C1785.9 829.2 1786.5 840.3 1786.7 850.0 C1786.9 859.7 1786.4 869.7 1785.7 878.0 C1785.0 886.3 1784.5 890.8 1782.7 900.0 C1780.9 909.2 1777.8 923.7 1775.0 933.0 C1772.2 942.3 1769.4 948.7 1766.0 956.0 C1762.6 963.3 1758.7 971.6 1754.5 977.0 C1750.3 982.4 1743.2 986.6 1741.0 988.5" fill="none" stroke="#423c3c" stroke-width="3" stroke-opacity="1" filter="url(#fB08)"/>
<path d="M1499 708.3L1640 720.8L1724 729.4" fill="none" stroke="#8a8484" stroke-width="1.3" stroke-opacity="0.75"/>
<path d="M1499 709C1483 725 1469.5 770 1466.5 812C1465.5 850 1474 884 1490 906" fill="none" stroke="#f3e2e4" stroke-width="2.4" stroke-opacity="0.75"/>
<ellipse cx="1559.7" cy="749.3" rx="14.0" ry="15.5" fill="url(#gGlow)"/><ellipse cx="1559.7" cy="748.3" rx="7.7" ry="9.0" fill="#2a1894"/><ellipse cx="1561.4" cy="748.5" rx="5.7" ry="6.9" fill="#4a0a1e"/><ellipse cx="1559.2" cy="748.2" rx="1.9" ry="3.6" fill="#dcaaaa"/>
<ellipse cx="1529.3" cy="783.8" rx="14.0" ry="15.5" fill="url(#gGlow)"/><ellipse cx="1529.3" cy="782.8" rx="7.7" ry="9.0" fill="#2a1894"/><ellipse cx="1531.0" cy="783.0" rx="5.7" ry="6.9" fill="#4a0a1e"/><ellipse cx="1528.8" cy="782.7" rx="1.9" ry="3.6" fill="#dcaaaa"/>
<ellipse cx="1541.8" cy="893.4" rx="14.0" ry="15.5" fill="url(#gGlow)"/><ellipse cx="1541.8" cy="892.4" rx="7.7" ry="9.0" fill="#2a1894"/><ellipse cx="1543.5" cy="892.6" rx="5.7" ry="6.9" fill="#4a0a1e"/><ellipse cx="1541.3" cy="892.3" rx="1.9" ry="3.6" fill="#dcaaaa"/>
<ellipse cx="1679.7" cy="883.1" rx="14.0" ry="15.5" fill="url(#gGlow)"/><ellipse cx="1679.7" cy="882.1" rx="7.7" ry="9.0" fill="#2a1894"/><ellipse cx="1681.4" cy="882.3" rx="5.7" ry="6.9" fill="#4a0a1e"/><ellipse cx="1679.2" cy="882.0" rx="1.9" ry="3.6" fill="#dcaaaa"/>
<ellipse cx="1502.7" cy="732.6" rx="7.7" ry="9.0" fill="#2a1894"/><ellipse cx="1504.4" cy="732.8" rx="5.7" ry="6.9" fill="#4a0a1e"/><ellipse cx="1502.2" cy="732.5" rx="1.9" ry="3.6" fill="#dcaaaa"/>
<ellipse cx="1612.3" cy="766.2" rx="7.7" ry="9.0" fill="#2a1894"/><ellipse cx="1614.0" cy="766.4" rx="5.7" ry="6.9" fill="#4a0a1e"/><ellipse cx="1611.8" cy="766.1" rx="1.9" ry="3.6" fill="#dcaaaa"/>
<ellipse cx="1679.7" cy="753.6" rx="7.7" ry="9.0" fill="#2a1894"/><ellipse cx="1681.4" cy="753.8" rx="5.7" ry="6.9" fill="#4a0a1e"/><ellipse cx="1679.2" cy="753.5" rx="1.9" ry="3.6" fill="#dcaaaa"/>
<ellipse cx="1739.2" cy="781.2" rx="7.7" ry="9.0" fill="#2a1894"/><ellipse cx="1740.9" cy="781.4" rx="5.7" ry="6.9" fill="#4a0a1e"/><ellipse cx="1738.7" cy="781.1" rx="1.9" ry="3.6" fill="#dcaaaa"/>
<ellipse cx="1650.5" cy="816.3" rx="7.7" ry="9.0" fill="#2a1894"/><ellipse cx="1652.2" cy="816.5" rx="5.7" ry="6.9" fill="#4a0a1e"/><ellipse cx="1650.0" cy="816.2" rx="1.9" ry="3.6" fill="#dcaaaa"/>
<ellipse cx="1711.0" cy="824.1" rx="7.7" ry="9.0" fill="#2a1894"/><ellipse cx="1712.7" cy="824.3" rx="5.7" ry="6.9" fill="#4a0a1e"/><ellipse cx="1710.5" cy="824.0" rx="1.9" ry="3.6" fill="#dcaaaa"/>
<ellipse cx="1495.8" cy="845.4" rx="7.7" ry="9.0" fill="#2a1894"/><ellipse cx="1497.5" cy="845.6" rx="5.7" ry="6.9" fill="#4a0a1e"/><ellipse cx="1495.3" cy="845.3" rx="1.9" ry="3.6" fill="#dcaaaa"/>
<ellipse cx="1570.0" cy="842.0" rx="7.7" ry="9.0" fill="#2a1894"/><ellipse cx="1571.7" cy="842.2" rx="5.7" ry="6.9" fill="#4a0a1e"/><ellipse cx="1569.5" cy="841.9" rx="1.9" ry="3.6" fill="#dcaaaa"/>
<ellipse cx="1758.0" cy="865.8" rx="7.7" ry="9.0" fill="#2a1894"/><ellipse cx="1759.7" cy="866.0" rx="5.7" ry="6.9" fill="#4a0a1e"/><ellipse cx="1757.5" cy="865.7" rx="1.9" ry="3.6" fill="#dcaaaa"/>
<ellipse cx="1612.3" cy="876.7" rx="7.7" ry="9.0" fill="#2a1894"/><ellipse cx="1614.0" cy="876.9" rx="5.7" ry="6.9" fill="#4a0a1e"/><ellipse cx="1611.8" cy="876.6" rx="1.9" ry="3.6" fill="#dcaaaa"/>
<ellipse cx="1736.1" cy="913.4" rx="7.7" ry="9.0" fill="#2a1894"/><ellipse cx="1737.8" cy="913.6" rx="5.7" ry="6.9" fill="#4a0a1e"/><ellipse cx="1735.6" cy="913.3" rx="1.9" ry="3.6" fill="#dcaaaa"/>
<ellipse cx="1641.4" cy="933.1" rx="7.7" ry="9.0" fill="#2a1894"/><ellipse cx="1643.1" cy="933.3" rx="5.7" ry="6.9" fill="#4a0a1e"/><ellipse cx="1640.9" cy="933.0" rx="1.9" ry="3.6" fill="#dcaaaa"/>
<ellipse cx="1700.7" cy="954.7" rx="7.7" ry="9.0" fill="#2a1894"/><ellipse cx="1702.4" cy="954.9" rx="5.7" ry="6.9" fill="#4a0a1e"/><ellipse cx="1700.2" cy="954.6" rx="1.9" ry="3.6" fill="#dcaaaa"/>
<path d="M1646.7 795.1A91.1 91.1 0 0 1 1652.8 813.3M1652.8 827.5A91.6 91.6 0 0 1 1650.7 846.8M1645.7 860.0A91.7 91.7 0 0 1 1637.6 877.2M1629.4 888.4A93.2 93.2 0 0 1 1615.2 901.5M1603.1 907.6A93.2 93.2 0 0 1 1585.8 915.7M1571.7 917.8A93.6 93.6 0 0 1 1552.4 918.4M1538.8 915.7A93.3 93.3 0 0 1 1520.6 908.6M1509.2 901.5A93.1 93.1 0 0 1 1493.6 889.4M1486.1 878.2A93.0 93.0 0 0 1 1475.3 862.0M1471.3 847.8A93.1 93.1 0 0 1 1469.3 811.3M1473.3 797.1A92.6 92.6 0 0 1 1480.4 779.9M1488.1 767.7A92.8 92.8 0 0 1 1501.7 754.5M1512.9 745.4A93.5 93.5 0 0 1 1529.5 736.9M1543.7 733.7A93.4 93.4 0 0 1 1562.1 731.2M1576.7 733.2A92.6 92.6 0 0 1 1594.4 738.9M1607.1 745.4A92.2 92.2 0 0 1 1622.7 755.6M1631.5 765.7A92.3 92.3 0 0 1 1643.6 781.5" fill="none" stroke="#ffff00" stroke-width="4.6"/>
<ellipse cx="1542.8" cy="745.8" rx="7.6" ry="8.6" fill="url(#gGrayL)"/><ellipse cx="1526.2" cy="756.8" rx="7.6" ry="8.6" fill="url(#gGrayL)"/><ellipse cx="1558.4" cy="756.8" rx="7.6" ry="8.6" fill="url(#gGrayL)"/><ellipse cx="1546.5" cy="758.3" rx="7.6" ry="8.6" fill="url(#gGrayL)"/><ellipse cx="1531.5" cy="767.7" rx="7.6" ry="8.6" fill="url(#gGrayL)"/><ellipse cx="1551.2" cy="771.5" rx="7.6" ry="8.6" fill="url(#gGrayL)"/><ellipse cx="1540.9" cy="782.8" rx="7.6" ry="8.6" fill="url(#gGrayL)"/>
<ellipse cx="1533.0" cy="876.7" rx="7.2" ry="8.2" fill="url(#gGrayL)"/><ellipse cx="1525.2" cy="890.5" rx="7.2" ry="8.2" fill="url(#gGrayL)"/><ellipse cx="1537.7" cy="892.4" rx="7.2" ry="8.2" fill="url(#gGrayL)"/>
<ellipse cx="1688.1" cy="866.4" rx="7.4" ry="8.4" fill="url(#gGrayL)"/><ellipse cx="1693.8" cy="878.9" rx="7.4" ry="8.4" fill="url(#gGrayL)"/><ellipse cx="1680.6" cy="880.5" rx="7.4" ry="8.4" fill="url(#gGrayL)"/><ellipse cx="1695.3" cy="893.0" rx="7.4" ry="8.4" fill="url(#gGrayL)"/><ellipse cx="1682.8" cy="894.6" rx="7.4" ry="8.4" fill="url(#gGrayL)"/><ellipse cx="1689.1" cy="906.2" rx="7.4" ry="8.4" fill="url(#gGrayL)"/>
<path d="M1771.3 748.6C1784 747 1793 744 1797.5 737C1801 730 1803 724.5 1815 721.3" fill="none" stroke="#111" stroke-width="2" stroke-dasharray="4.8 2.8"/>
<path d="M1814.6 721.2L1818.6 718L1823.2 721.2L1818.6 724.4Z" fill="#111"/>
<path d="M1703.6 993.8C1722 993.5 1734 994.5 1741 1000.5C1748 1006 1758 1007 1783 1007.9" fill="none" stroke="#111" stroke-width="1.8"/>
<path d="M1782 1007.9L1785.6 1004.6L1790 1007.9L1785.6 1011.2Z" fill="#111"/>
<path d="M1854.3 700.7 C1860.1 699.8 1870.2 702.4 1878.2 703.2 C1886.2 704.0 1894.2 704.8 1902.2 705.7 C1910.2 706.5 1918.2 707.3 1926.2 708.2 C1934.2 709.0 1942.0 709.8 1950.1 710.7 C1958.3 711.5 1966.7 712.4 1975.0 713.2 C1983.3 714.1 1993.6 714.5 1999.9 715.8 C2006.2 717.2 2008.5 717.7 2012.8 721.3 C2017.1 725.0 2022.2 730.9 2025.7 737.9 C2029.3 745.0 2032.0 754.8 2034.0 763.8 C2036.0 772.7 2037.4 780.7 2037.7 791.4 C2038.0 802.2 2037.6 816.9 2035.9 828.3 C2034.2 839.7 2030.8 851.0 2027.6 859.6 C2024.4 868.3 2020.5 875.2 2016.5 879.9 C2012.5 884.7 2008.5 887.0 2003.6 888.2 C1998.7 889.5 1993.8 889.0 1987.0 887.3 C1980.3 885.6 1971.0 881.2 1963.1 878.2 C1955.1 875.1 1946.9 872.0 1939.1 869.1 C1931.2 866.1 1923.7 863.2 1916.0 860.2 C1908.3 857.3 1900.7 854.3 1893.0 851.3 C1885.3 848.4 1877.6 845.5 1869.9 842.6 C1862.2 839.7 1852.3 837.1 1846.9 833.8 C1841.5 830.5 1840.6 828.3 1837.7 822.8 C1834.7 817.2 1831.4 808.0 1829.4 800.6 C1827.4 793.3 1826.0 786.2 1825.7 778.5 C1825.4 770.8 1826.1 763.1 1827.5 754.5 C1828.9 745.9 1831.4 734.6 1834.0 726.9 C1836.6 719.2 1839.8 712.8 1843.2 708.4 C1846.6 704.1 1848.4 701.6 1854.3 700.7Z" fill="#9a9a9a" fill-opacity="0.15" filter="url(#fSh)" transform="translate(0 4)"/>
<path d="M1854.3 700.7 C1860.1 699.8 1870.2 702.4 1878.2 703.2 C1886.2 704.0 1894.2 704.8 1902.2 705.7 C1910.2 706.5 1918.2 707.3 1926.2 708.2 C1934.2 709.0 1942.0 709.8 1950.1 710.7 C1958.3 711.5 1966.7 712.4 1975.0 713.2 C1983.3 714.1 1993.6 714.5 1999.9 715.8 C2006.2 717.2 2008.5 717.7 2012.8 721.3 C2017.1 725.0 2022.2 730.9 2025.7 737.9 C2029.3 745.0 2032.0 754.8 2034.0 763.8 C2036.0 772.7 2037.4 780.7 2037.7 791.4 C2038.0 802.2 2037.6 816.9 2035.9 828.3 C2034.2 839.7 2030.8 851.0 2027.6 859.6 C2024.4 868.3 2020.5 875.2 2016.5 879.9 C2012.5 884.7 2008.5 887.0 2003.6 888.2 C1998.7 889.5 1993.8 889.0 1987.0 887.3 C1980.3 885.6 1971.0 881.2 1963.1 878.2 C1955.1 875.1 1946.9 872.0 1939.1 869.1 C1931.2 866.1 1923.7 863.2 1916.0 860.2 C1908.3 857.3 1900.7 854.3 1893.0 851.3 C1885.3 848.4 1877.6 845.5 1869.9 842.6 C1862.2 839.7 1852.3 837.1 1846.9 833.8 C1841.5 830.5 1840.6 828.3 1837.7 822.8 C1834.7 817.2 1831.4 808.0 1829.4 800.6 C1827.4 793.3 1826.0 786.2 1825.7 778.5 C1825.4 770.8 1826.1 763.1 1827.5 754.5 C1828.9 745.9 1831.4 734.6 1834.0 726.9 C1836.6 719.2 1839.8 712.8 1843.2 708.4 C1846.6 704.1 1848.4 701.6 1854.3 700.7Z" fill="#f6cece" stroke="#f3dddd" stroke-width="2"/>
<path d="M1940.8 756.6A59.8 59.8 0 0 1 1944.0 768.2M1944.4 778.5A60.0 60.0 0 0 1 1942.7 789.5M1939.5 798.5A60.0 60.0 0 0 1 1934.4 809.5M1928.3 817.3A60.4 60.4 0 0 1 1919.5 824.7M1911.1 829.9A60.4 60.4 0 0 1 1900.2 834.0M1891.1 836.4A60.8 60.8 0 0 1 1878.9 836.0M1869.8 833.8A59.9 59.9 0 0 1 1858.2 829.5M1849.8 825.0A60.2 60.2 0 0 1 1840.8 817.3M1835.4 809.5A59.9 59.9 0 0 1 1828.9 799.5M1826.0 790.2A60.5 60.5 0 0 1 1824.3 766.9M1827.3 756.6A60.3 60.3 0 0 1 1831.8 746.3M1837.2 737.9A60.4 60.4 0 0 1 1845.7 729.5M1853.1 723.7A60.7 60.7 0 0 1 1864.0 718.5M1873.1 716.0A60.7 60.7 0 0 1 1885.3 715.1M1894.7 716.0A60.6 60.6 0 0 1 1906.4 719.2M1914.6 723.7A60.5 60.5 0 0 1 1924.7 730.2M1930.5 737.3A60.4 60.4 0 0 1 1938.2 747.3" fill="none" stroke="#ffff00" stroke-width="3.5"/>
<ellipse cx="1883.8" cy="731.4" rx="9.5" ry="11" fill="url(#gGlow2)"/><ellipse cx="1883.8" cy="730.9" rx="5" ry="5.6" fill="#2828ae"/><ellipse cx="1884.6" cy="730.9" rx="3.0" ry="3.7" fill="#1a0a30"/><ellipse cx="1883.6" cy="730.9" rx="0.95" ry="1.8" fill="#f7dada"/>
<ellipse cx="1865.3" cy="752.6" rx="9.5" ry="11" fill="url(#gGlow2)"/><ellipse cx="1865.3" cy="752.1" rx="5" ry="5.6" fill="#2828ae"/><ellipse cx="1866.1" cy="752.1" rx="3.0" ry="3.7" fill="#1a0a30"/><ellipse cx="1865.1" cy="752.1" rx="0.95" ry="1.8" fill="#f7dada"/>
<ellipse cx="1871.4" cy="824.2" rx="9.5" ry="11" fill="url(#gGlow2)"/><ellipse cx="1871.4" cy="823.7" rx="5" ry="5.6" fill="#2828ae"/><ellipse cx="1872.2" cy="823.7" rx="3.0" ry="3.7" fill="#1a0a30"/><ellipse cx="1871.2" cy="823.7" rx="0.95" ry="1.8" fill="#f7dada"/>
<ellipse cx="1962.7" cy="817.7" rx="9.5" ry="11" fill="url(#gGlow2)"/><ellipse cx="1962.7" cy="817.2" rx="5" ry="5.6" fill="#2828ae"/><ellipse cx="1963.5" cy="817.2" rx="3.0" ry="3.7" fill="#1a0a30"/><ellipse cx="1962.5" cy="817.2" rx="0.95" ry="1.8" fill="#f7dada"/>
<ellipse cx="1847.4" cy="719.5" rx="5" ry="5.6" fill="#2828ae"/><ellipse cx="1848.2" cy="719.5" rx="3.0" ry="3.7" fill="#1a0a30"/><ellipse cx="1847.2" cy="719.5" rx="0.95" ry="1.8" fill="#f7dada"/>
<ellipse cx="1917.9" cy="741.6" rx="5" ry="5.6" fill="#2828ae"/><ellipse cx="1918.7" cy="741.6" rx="3.0" ry="3.7" fill="#1a0a30"/><ellipse cx="1917.7" cy="741.6" rx="0.95" ry="1.8" fill="#f7dada"/>
<ellipse cx="1962.1" cy="733.3" rx="5" ry="5.6" fill="#2828ae"/><ellipse cx="1962.9" cy="733.3" rx="3.0" ry="3.7" fill="#1a0a30"/><ellipse cx="1961.9" cy="733.3" rx="0.95" ry="1.8" fill="#f7dada"/>
<ellipse cx="2000.9" cy="751.4" rx="5" ry="5.6" fill="#2828ae"/><ellipse cx="2001.7" cy="751.4" rx="3.0" ry="3.7" fill="#1a0a30"/><ellipse cx="2000.7" cy="751.4" rx="0.95" ry="1.8" fill="#f7dada"/>
<ellipse cx="1942.8" cy="773.9" rx="5" ry="5.6" fill="#2828ae"/><ellipse cx="1943.6" cy="773.9" rx="3.0" ry="3.7" fill="#1a0a30"/><ellipse cx="1942.6" cy="773.9" rx="0.95" ry="1.8" fill="#f7dada"/>
<ellipse cx="1982.4" cy="779.4" rx="5" ry="5.6" fill="#2828ae"/><ellipse cx="1983.2" cy="779.4" rx="3.0" ry="3.7" fill="#1a0a30"/><ellipse cx="1982.2" cy="779.4" rx="0.95" ry="1.8" fill="#f7dada"/>
<ellipse cx="1842.8" cy="793.3" rx="5" ry="5.6" fill="#2828ae"/><ellipse cx="1843.6" cy="793.3" rx="3.0" ry="3.7" fill="#1a0a30"/><ellipse cx="1842.6" cy="793.3" rx="0.95" ry="1.8" fill="#f7dada"/>
<ellipse cx="1890.8" cy="790.9" rx="5" ry="5.6" fill="#2828ae"/><ellipse cx="1891.6" cy="790.9" rx="3.0" ry="3.7" fill="#1a0a30"/><ellipse cx="1890.6" cy="790.9" rx="0.95" ry="1.8" fill="#f7dada"/>
<ellipse cx="2012.8" cy="806.5" rx="5" ry="5.6" fill="#2828ae"/><ellipse cx="2013.6" cy="806.5" rx="3.0" ry="3.7" fill="#1a0a30"/><ellipse cx="2012.6" cy="806.5" rx="0.95" ry="1.8" fill="#f7dada"/>
<ellipse cx="1918.4" cy="813.2" rx="5" ry="5.6" fill="#2828ae"/><ellipse cx="1919.2" cy="813.2" rx="3.0" ry="3.7" fill="#1a0a30"/><ellipse cx="1918.2" cy="813.2" rx="0.95" ry="1.8" fill="#f7dada"/>
<ellipse cx="1999.0" cy="837.2" rx="5" ry="5.6" fill="#2828ae"/><ellipse cx="1999.8" cy="837.2" rx="3.0" ry="3.7" fill="#1a0a30"/><ellipse cx="1998.8" cy="837.2" rx="0.95" ry="1.8" fill="#f7dada"/>
<ellipse cx="1937.2" cy="850.4" rx="5" ry="5.6" fill="#2828ae"/><ellipse cx="1938.0" cy="850.4" rx="3.0" ry="3.7" fill="#1a0a30"/><ellipse cx="1937.0" cy="850.4" rx="0.95" ry="1.8" fill="#f7dada"/>
<ellipse cx="1975.6" cy="864.3" rx="5" ry="5.6" fill="#2828ae"/><ellipse cx="1976.4" cy="864.3" rx="3.0" ry="3.7" fill="#1a0a30"/><ellipse cx="1975.4" cy="864.3" rx="0.95" ry="1.8" fill="#f7dada"/>
<path d="M1822.6 883.9 C1828.3 883.3 1839.5 885.5 1847.9 886.3 C1856.3 887.2 1864.7 888.0 1873.1 888.8 C1881.6 889.7 1890.0 890.5 1898.4 891.3 C1906.8 892.1 1915.3 893.0 1923.7 893.8 C1932.1 894.6 1940.5 895.4 1948.9 896.3 C1957.4 897.1 1968.0 897.3 1974.2 898.7 C1980.4 900.1 1982.1 900.9 1986.1 904.7 C1990.1 908.5 1994.7 914.8 1998.0 921.5 C2001.3 928.3 2003.9 936.7 2005.9 945.3 C2007.9 953.9 2009.6 962.5 2009.9 973.1 C2010.2 983.6 2009.6 997.2 2007.9 1008.7 C2006.3 1020.3 2003.3 1033.2 2000.0 1042.4 C1996.7 1051.7 1992.4 1059.1 1988.1 1064.2 C1983.8 1069.3 1979.2 1072.1 1974.2 1073.1 C1969.3 1074.1 1964.8 1072.0 1958.4 1070.2 C1951.9 1068.4 1943.2 1064.9 1935.6 1062.3 C1928.0 1059.7 1920.5 1057.1 1912.8 1054.5 C1905.1 1051.9 1897.3 1049.2 1889.5 1046.5 C1881.7 1043.8 1874.0 1041.1 1866.2 1038.5 C1858.4 1035.8 1850.7 1033.2 1842.9 1030.5 C1835.2 1027.9 1825.2 1025.6 1819.6 1022.6 C1814.1 1019.6 1812.7 1018.3 1809.7 1012.7 C1806.8 1007.1 1803.8 997.8 1801.8 988.9 C1799.8 980.0 1798.2 969.1 1797.8 959.2 C1797.5 949.3 1798.5 938.4 1799.8 929.5 C1801.1 920.5 1803.5 912.3 1805.8 905.7 C1808.1 899.1 1810.9 893.5 1813.7 889.8 C1816.5 886.2 1816.9 884.5 1822.6 883.9Z" fill="#9a9a9a" fill-opacity="0.18" filter="url(#fSh)" transform="translate(0 4)"/>
<path d="M1822.6 883.9 C1828.3 883.3 1839.5 885.5 1847.9 886.3 C1856.3 887.2 1864.7 888.0 1873.1 888.8 C1881.6 889.7 1890.0 890.5 1898.4 891.3 C1906.8 892.1 1915.3 893.0 1923.7 893.8 C1932.1 894.6 1940.5 895.4 1948.9 896.3 C1957.4 897.1 1968.0 897.3 1974.2 898.7 C1980.4 900.1 1982.1 900.9 1986.1 904.7 C1990.1 908.5 1994.7 914.8 1998.0 921.5 C2001.3 928.3 2003.9 936.7 2005.9 945.3 C2007.9 953.9 2009.6 962.5 2009.9 973.1 C2010.2 983.6 2009.6 997.2 2007.9 1008.7 C2006.3 1020.3 2003.3 1033.2 2000.0 1042.4 C1996.7 1051.7 1992.4 1059.1 1988.1 1064.2 C1983.8 1069.3 1979.2 1072.1 1974.2 1073.1 C1969.3 1074.1 1964.8 1072.0 1958.4 1070.2 C1951.9 1068.4 1943.2 1064.9 1935.6 1062.3 C1928.0 1059.7 1920.5 1057.1 1912.8 1054.5 C1905.1 1051.9 1897.3 1049.2 1889.5 1046.5 C1881.7 1043.8 1874.0 1041.1 1866.2 1038.5 C1858.4 1035.8 1850.7 1033.2 1842.9 1030.5 C1835.2 1027.9 1825.2 1025.6 1819.6 1022.6 C1814.1 1019.6 1812.7 1018.3 1809.7 1012.7 C1806.8 1007.1 1803.8 997.8 1801.8 988.9 C1799.8 980.0 1798.2 969.1 1797.8 959.2 C1797.5 949.3 1798.5 938.4 1799.8 929.5 C1801.1 920.5 1803.5 912.3 1805.8 905.7 C1808.1 899.1 1810.9 893.5 1813.7 889.8 C1816.5 886.2 1816.9 884.5 1822.6 883.9Z" fill="url(#gDisc3)" stroke="#ece4e4" stroke-width="2.4"/>
<path d="M1974.2 899.1 C1976.2 900.1 1982.1 901.3 1986.1 905.1 C1990.1 908.9 1994.7 915.2 1998.0 921.9 C2001.3 928.7 2003.9 937.0 2005.9 945.5 C2007.9 954.0 2009.6 962.5 2009.9 973.1 C2010.2 983.6 2009.6 997.2 2007.9 1008.7 C2006.3 1020.3 2003.3 1033.0 2000.0 1042.2 C1996.7 1051.4 1990.1 1060.2 1988.1 1063.8" fill="none" stroke="#5a5656" stroke-width="1.6" stroke-opacity="0.85" filter="url(#fB08)"/>
<path d="M1823 884.2L1974 898.9" fill="none" stroke="#a09a9a" stroke-width="1" stroke-opacity="0.7"/>
<path d="M1919.1 939.0A60.2 60.2 0 0 1 1922.1 951.2M1922.1 960.3A60.0 60.0 0 0 1 1920.6 972.5M1917.8 981.5A60.3 60.3 0 0 1 1912.0 992.5M1905.8 999.6A60.3 60.3 0 0 1 1897.2 1008.0M1888.8 1012.5A60.5 60.5 0 0 1 1877.8 1017.3M1868.8 1019.4A61.0 61.0 0 0 1 1856.5 1019.0M1847.2 1017.0A60.3 60.3 0 0 1 1835.9 1012.5M1827.9 1008.0A60.4 60.4 0 0 1 1818.5 1000.3M1813.3 992.3A59.9 59.9 0 0 1 1806.8 982.5M1804.0 973.2A60.3 60.3 0 0 1 1802.3 949.7M1804.9 940.3A59.9 59.9 0 0 1 1810.1 929.5M1815.0 921.3A60.1 60.1 0 0 1 1823.6 912.5M1831.0 907.1A60.3 60.3 0 0 1 1841.7 901.5M1850.7 899.0A60.7 60.7 0 0 1 1863.0 897.7M1872.3 898.6A60.5 60.5 0 0 1 1884.3 902.5M1892.4 906.7A60.2 60.2 0 0 1 1902.7 913.5M1908.1 920.5A60.2 60.2 0 0 1 1916.1 930.6" fill="none" stroke="#ffff00" stroke-width="3.0"/>
<ellipse cx="1851.1" cy="907.4" rx="4.8" ry="5.4" fill="url(#gGrayD)"/><ellipse cx="1840.8" cy="914.5" rx="4.8" ry="5.4" fill="url(#gGrayD)"/><ellipse cx="1861.7" cy="915.1" rx="4.8" ry="5.4" fill="url(#gGrayD)"/><ellipse cx="1852.6" cy="916.1" rx="4.8" ry="5.4" fill="url(#gGrayD)"/><ellipse cx="1844.0" cy="921.8" rx="4.8" ry="5.4" fill="url(#gGrayD)"/><ellipse cx="1856.5" cy="924.8" rx="4.8" ry="5.4" fill="url(#gGrayD)"/><ellipse cx="1850.3" cy="931.9" rx="4.8" ry="5.4" fill="url(#gGrayD)"/>
<ellipse cx="1844.9" cy="993.2" rx="4.8" ry="5.4" fill="url(#gGrayD)"/><ellipse cx="1839.1" cy="1002.2" rx="4.8" ry="5.4" fill="url(#gGrayD)"/><ellipse cx="1848.1" cy="1002.8" rx="4.8" ry="5.4" fill="url(#gGrayD)"/>
<ellipse cx="1945.9" cy="985.9" rx="4.7" ry="5.3" fill="url(#gGrayD)"/><ellipse cx="1940.9" cy="995.2" rx="4.7" ry="5.3" fill="url(#gGrayD)"/><ellipse cx="1950.0" cy="994.9" rx="4.7" ry="5.3" fill="url(#gGrayD)"/><ellipse cx="1940.1" cy="1005.2" rx="4.7" ry="5.3" fill="url(#gGrayD)"/><ellipse cx="1950.4" cy="1004.8" rx="4.7" ry="5.3" fill="url(#gGrayD)"/><ellipse cx="1946.1" cy="1014.3" rx="4.7" ry="5.3" fill="url(#gGrayD)"/>
<text x="1383" y="707" font-family="'Liberation Serif','Times New Roman',serif" font-weight="bold" font-size="61.5" fill="#000">f</text>
</g>
</svg></body></html>
